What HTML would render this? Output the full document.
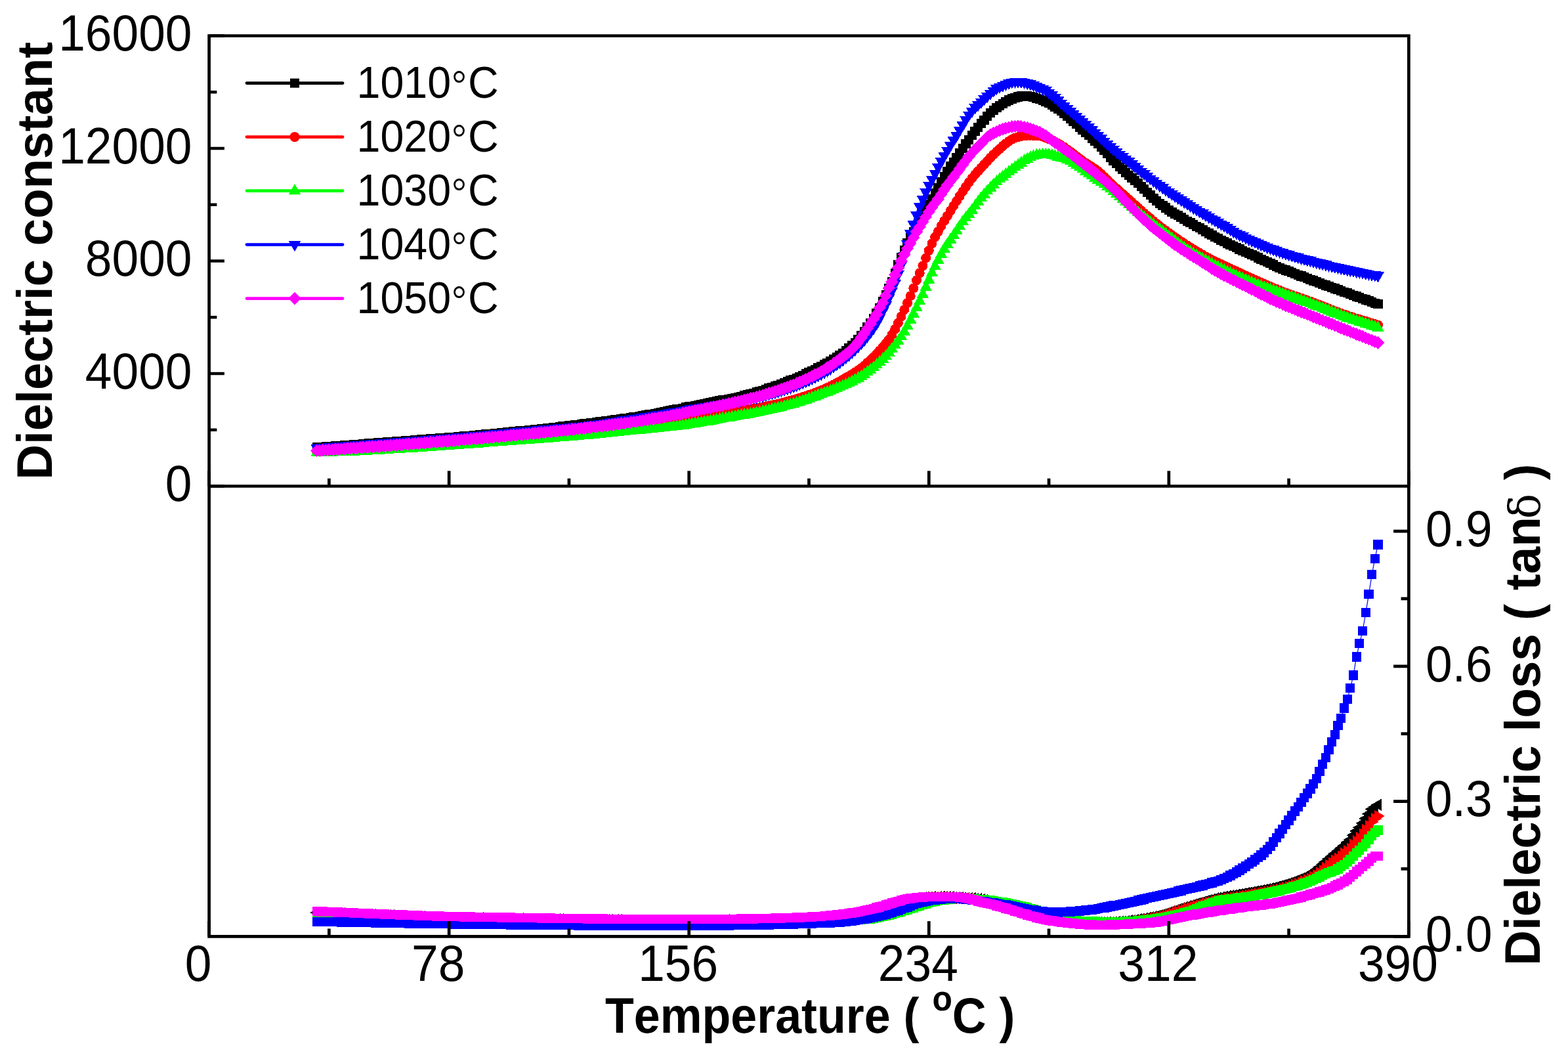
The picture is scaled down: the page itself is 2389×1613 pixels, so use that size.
<!DOCTYPE html>
<html lang="en">
<head>
<meta charset="utf-8">
<title>Dielectric constant and dielectric loss vs temperature</title>
<style>
html,body{margin:0;padding:0;background:#fff;}
body{width:2389px;height:1613px;overflow:hidden;}
svg{display:block;}
text{font-family:"Liberation Sans",sans-serif;fill:#000;font-kerning:none;}
</style>
</head>
<body>
<svg width="2389" height="1613" viewBox="0 0 2389 1613" role="img" aria-label="Dielectric constant and dielectric loss versus temperature">
<rect width="2389" height="1613" fill="#fff"/>
<g id="curves">
<defs>
<marker id="m-sq-black" viewBox="-12 -12 24 24" markerWidth="24" markerHeight="24" refX="0" refY="0" markerUnits="userSpaceOnUse" orient="0" overflow="visible"><path d="M-7.1 -7.1H7.1V7.1H-7.1Z" fill="#000000" shape-rendering="crispEdges"/></marker>
<marker id="m-sq-red" viewBox="-12 -12 24 24" markerWidth="24" markerHeight="24" refX="0" refY="0" markerUnits="userSpaceOnUse" orient="0" overflow="visible"><path d="M-7.1 -7.1H7.1V7.1H-7.1Z" fill="#ff0000" shape-rendering="crispEdges"/></marker>
<marker id="m-sq-green" viewBox="-12 -12 24 24" markerWidth="24" markerHeight="24" refX="0" refY="0" markerUnits="userSpaceOnUse" orient="0" overflow="visible"><path d="M-7.1 -7.1H7.1V7.1H-7.1Z" fill="#00ff00" shape-rendering="crispEdges"/></marker>
<marker id="m-sq-blue" viewBox="-12 -12 24 24" markerWidth="24" markerHeight="24" refX="0" refY="0" markerUnits="userSpaceOnUse" orient="0" overflow="visible"><path d="M-7.1 -7.1H7.1V7.1H-7.1Z" fill="#0000ff" shape-rendering="crispEdges"/></marker>
<marker id="m-sq-magenta" viewBox="-12 -12 24 24" markerWidth="24" markerHeight="24" refX="0" refY="0" markerUnits="userSpaceOnUse" orient="0" overflow="visible"><path d="M-7.1 -7.1H7.1V7.1H-7.1Z" fill="#ff00ff" shape-rendering="crispEdges"/></marker>
<marker id="m-ci-black" viewBox="-12 -12 24 24" markerWidth="24" markerHeight="24" refX="0" refY="0" markerUnits="userSpaceOnUse" orient="0" overflow="visible"><path d="M7.5 0A7.5 7.5 0 1 1 -7.5 0A7.5 7.5 0 1 1 7.5 0Z" fill="#000000" shape-rendering="crispEdges"/></marker>
<marker id="m-ci-red" viewBox="-12 -12 24 24" markerWidth="24" markerHeight="24" refX="0" refY="0" markerUnits="userSpaceOnUse" orient="0" overflow="visible"><path d="M7.5 0A7.5 7.5 0 1 1 -7.5 0A7.5 7.5 0 1 1 7.5 0Z" fill="#ff0000" shape-rendering="crispEdges"/></marker>
<marker id="m-ci-green" viewBox="-12 -12 24 24" markerWidth="24" markerHeight="24" refX="0" refY="0" markerUnits="userSpaceOnUse" orient="0" overflow="visible"><path d="M7.5 0A7.5 7.5 0 1 1 -7.5 0A7.5 7.5 0 1 1 7.5 0Z" fill="#00ff00" shape-rendering="crispEdges"/></marker>
<marker id="m-ci-blue" viewBox="-12 -12 24 24" markerWidth="24" markerHeight="24" refX="0" refY="0" markerUnits="userSpaceOnUse" orient="0" overflow="visible"><path d="M7.5 0A7.5 7.5 0 1 1 -7.5 0A7.5 7.5 0 1 1 7.5 0Z" fill="#0000ff" shape-rendering="crispEdges"/></marker>
<marker id="m-ci-magenta" viewBox="-12 -12 24 24" markerWidth="24" markerHeight="24" refX="0" refY="0" markerUnits="userSpaceOnUse" orient="0" overflow="visible"><path d="M7.5 0A7.5 7.5 0 1 1 -7.5 0A7.5 7.5 0 1 1 7.5 0Z" fill="#ff00ff" shape-rendering="crispEdges"/></marker>
<marker id="m-up-black" viewBox="-12 -12 24 24" markerWidth="24" markerHeight="24" refX="0" refY="0" markerUnits="userSpaceOnUse" orient="0" overflow="visible"><path d="M0 -10.6L9.3 5.6H-9.3Z" fill="#000000" shape-rendering="crispEdges"/></marker>
<marker id="m-up-red" viewBox="-12 -12 24 24" markerWidth="24" markerHeight="24" refX="0" refY="0" markerUnits="userSpaceOnUse" orient="0" overflow="visible"><path d="M0 -10.6L9.3 5.6H-9.3Z" fill="#ff0000" shape-rendering="crispEdges"/></marker>
<marker id="m-up-green" viewBox="-12 -12 24 24" markerWidth="24" markerHeight="24" refX="0" refY="0" markerUnits="userSpaceOnUse" orient="0" overflow="visible"><path d="M0 -10.6L9.3 5.6H-9.3Z" fill="#00ff00" shape-rendering="crispEdges"/></marker>
<marker id="m-up-blue" viewBox="-12 -12 24 24" markerWidth="24" markerHeight="24" refX="0" refY="0" markerUnits="userSpaceOnUse" orient="0" overflow="visible"><path d="M0 -10.6L9.3 5.6H-9.3Z" fill="#0000ff" shape-rendering="crispEdges"/></marker>
<marker id="m-up-magenta" viewBox="-12 -12 24 24" markerWidth="24" markerHeight="24" refX="0" refY="0" markerUnits="userSpaceOnUse" orient="0" overflow="visible"><path d="M0 -10.6L9.3 5.6H-9.3Z" fill="#ff00ff" shape-rendering="crispEdges"/></marker>
<marker id="m-dn-black" viewBox="-12 -12 24 24" markerWidth="24" markerHeight="24" refX="0" refY="0" markerUnits="userSpaceOnUse" orient="0" overflow="visible"><path d="M0 10.6L9.3 -5.6H-9.3Z" fill="#000000" shape-rendering="crispEdges"/></marker>
<marker id="m-dn-red" viewBox="-12 -12 24 24" markerWidth="24" markerHeight="24" refX="0" refY="0" markerUnits="userSpaceOnUse" orient="0" overflow="visible"><path d="M0 10.6L9.3 -5.6H-9.3Z" fill="#ff0000" shape-rendering="crispEdges"/></marker>
<marker id="m-dn-green" viewBox="-12 -12 24 24" markerWidth="24" markerHeight="24" refX="0" refY="0" markerUnits="userSpaceOnUse" orient="0" overflow="visible"><path d="M0 10.6L9.3 -5.6H-9.3Z" fill="#00ff00" shape-rendering="crispEdges"/></marker>
<marker id="m-dn-blue" viewBox="-12 -12 24 24" markerWidth="24" markerHeight="24" refX="0" refY="0" markerUnits="userSpaceOnUse" orient="0" overflow="visible"><path d="M0 10.6L9.3 -5.6H-9.3Z" fill="#0000ff" shape-rendering="crispEdges"/></marker>
<marker id="m-dn-magenta" viewBox="-12 -12 24 24" markerWidth="24" markerHeight="24" refX="0" refY="0" markerUnits="userSpaceOnUse" orient="0" overflow="visible"><path d="M0 10.6L9.3 -5.6H-9.3Z" fill="#ff00ff" shape-rendering="crispEdges"/></marker>
<marker id="m-di-black" viewBox="-12 -12 24 24" markerWidth="24" markerHeight="24" refX="0" refY="0" markerUnits="userSpaceOnUse" orient="0" overflow="visible"><path d="M0 -9.8L9.7 0L0 9.8L-9.7 0Z" fill="#000000" shape-rendering="crispEdges"/></marker>
<marker id="m-di-red" viewBox="-12 -12 24 24" markerWidth="24" markerHeight="24" refX="0" refY="0" markerUnits="userSpaceOnUse" orient="0" overflow="visible"><path d="M0 -9.8L9.7 0L0 9.8L-9.7 0Z" fill="#ff0000" shape-rendering="crispEdges"/></marker>
<marker id="m-di-green" viewBox="-12 -12 24 24" markerWidth="24" markerHeight="24" refX="0" refY="0" markerUnits="userSpaceOnUse" orient="0" overflow="visible"><path d="M0 -9.8L9.7 0L0 9.8L-9.7 0Z" fill="#00ff00" shape-rendering="crispEdges"/></marker>
<marker id="m-di-blue" viewBox="-12 -12 24 24" markerWidth="24" markerHeight="24" refX="0" refY="0" markerUnits="userSpaceOnUse" orient="0" overflow="visible"><path d="M0 -9.8L9.7 0L0 9.8L-9.7 0Z" fill="#0000ff" shape-rendering="crispEdges"/></marker>
<marker id="m-di-magenta" viewBox="-12 -12 24 24" markerWidth="24" markerHeight="24" refX="0" refY="0" markerUnits="userSpaceOnUse" orient="0" overflow="visible"><path d="M0 -9.8L9.7 0L0 9.8L-9.7 0Z" fill="#ff00ff" shape-rendering="crispEdges"/></marker>
<marker id="m-lt-black" viewBox="-12 -12 24 24" markerWidth="24" markerHeight="24" refX="0" refY="0" markerUnits="userSpaceOnUse" orient="0" overflow="visible"><path d="M-10.6 0L5.6 -9.3V9.3Z" fill="#000000" shape-rendering="crispEdges"/></marker>
<marker id="m-lt-red" viewBox="-12 -12 24 24" markerWidth="24" markerHeight="24" refX="0" refY="0" markerUnits="userSpaceOnUse" orient="0" overflow="visible"><path d="M-10.6 0L5.6 -9.3V9.3Z" fill="#ff0000" shape-rendering="crispEdges"/></marker>
<marker id="m-lt-green" viewBox="-12 -12 24 24" markerWidth="24" markerHeight="24" refX="0" refY="0" markerUnits="userSpaceOnUse" orient="0" overflow="visible"><path d="M-10.6 0L5.6 -9.3V9.3Z" fill="#00ff00" shape-rendering="crispEdges"/></marker>
<marker id="m-lt-blue" viewBox="-12 -12 24 24" markerWidth="24" markerHeight="24" refX="0" refY="0" markerUnits="userSpaceOnUse" orient="0" overflow="visible"><path d="M-10.6 0L5.6 -9.3V9.3Z" fill="#0000ff" shape-rendering="crispEdges"/></marker>
<marker id="m-lt-magenta" viewBox="-12 -12 24 24" markerWidth="24" markerHeight="24" refX="0" refY="0" markerUnits="userSpaceOnUse" orient="0" overflow="visible"><path d="M-10.6 0L5.6 -9.3V9.3Z" fill="#ff00ff" shape-rendering="crispEdges"/></marker>
<marker id="m-rt-black" viewBox="-12 -12 24 24" markerWidth="24" markerHeight="24" refX="0" refY="0" markerUnits="userSpaceOnUse" orient="0" overflow="visible"><path d="M10.6 0L-5.6 -9.3V9.3Z" fill="#000000" shape-rendering="crispEdges"/></marker>
<marker id="m-rt-red" viewBox="-12 -12 24 24" markerWidth="24" markerHeight="24" refX="0" refY="0" markerUnits="userSpaceOnUse" orient="0" overflow="visible"><path d="M10.6 0L-5.6 -9.3V9.3Z" fill="#ff0000" shape-rendering="crispEdges"/></marker>
<marker id="m-rt-green" viewBox="-12 -12 24 24" markerWidth="24" markerHeight="24" refX="0" refY="0" markerUnits="userSpaceOnUse" orient="0" overflow="visible"><path d="M10.6 0L-5.6 -9.3V9.3Z" fill="#00ff00" shape-rendering="crispEdges"/></marker>
<marker id="m-rt-blue" viewBox="-12 -12 24 24" markerWidth="24" markerHeight="24" refX="0" refY="0" markerUnits="userSpaceOnUse" orient="0" overflow="visible"><path d="M10.6 0L-5.6 -9.3V9.3Z" fill="#0000ff" shape-rendering="crispEdges"/></marker>
<marker id="m-rt-magenta" viewBox="-12 -12 24 24" markerWidth="24" markerHeight="24" refX="0" refY="0" markerUnits="userSpaceOnUse" orient="0" overflow="visible"><path d="M10.6 0L-5.6 -9.3V9.3Z" fill="#ff00ff" shape-rendering="crispEdges"/></marker>
</defs>
<g id="series-top" fill="none" stroke-linejoin="round">
<polyline points="482.6,681.5 487.3,681.2 492.0,680.8 496.7,680.5 501.4,680.2 506.1,679.8 510.8,679.5 515.4,679.2 520.1,678.8 524.8,678.5 529.5,678.2 534.2,677.8 538.9,677.5 543.6,677.1 548.2,676.8 552.9,676.4 557.6,676.0 562.3,675.6 567.0,675.2 571.7,674.8 576.4,674.5 581.1,674.1 585.7,673.8 590.4,673.4 595.1,673.1 599.8,672.7 604.5,672.4 609.2,672.0 613.9,671.7 618.5,671.4 623.2,671.0 627.9,670.7 632.6,670.3 637.3,670.0 642.0,669.6 646.7,669.3 651.4,668.9 656.0,668.6 660.7,668.3 665.4,667.9 670.1,667.6 674.8,667.2 679.5,666.8 684.2,666.5 688.8,666.1 693.5,665.7 698.2,665.3 702.9,665.0 707.6,664.6 712.3,664.1 717.0,663.7 721.7,663.3 726.3,662.9 731.0,662.5 735.7,662.0 740.4,661.6 745.1,661.1 749.8,660.7 754.5,660.2 759.1,659.8 763.8,659.3 768.5,658.9 773.2,658.4 777.9,658.0 782.6,657.5 787.3,657.0 792.0,656.6 796.6,656.1 801.3,655.7 806.0,655.2 810.7,654.7 815.4,654.3 820.1,653.8 824.8,653.3 829.4,652.8 834.1,652.3 838.8,651.7 843.5,651.2 848.2,650.7 852.9,650.1 857.6,649.6 862.3,649.0 866.9,648.4 871.6,647.9 876.3,647.3 881.0,646.7 885.7,646.1 890.4,645.5 895.1,644.9 899.7,644.4 904.4,643.8 909.1,643.2 913.8,642.6 918.5,642.0 923.2,641.4 927.9,640.8 932.6,640.2 937.2,639.6 941.9,639.0 946.6,638.3 951.3,637.6 956.0,636.9 960.7,636.2 965.4,635.4 970.0,634.7 974.7,633.9 979.4,633.1 984.1,632.3 988.8,631.5 993.5,630.7 998.2,629.8 1002.9,629.0 1007.5,628.1 1012.2,627.2 1016.9,626.3 1021.6,625.4 1026.3,624.5 1031.0,623.6 1035.7,622.7 1040.3,621.7 1045.0,620.6 1049.7,619.6 1054.4,618.7 1059.1,617.7 1063.8,616.8 1068.5,615.9 1073.2,615.0 1077.8,614.1 1082.5,613.2 1087.2,612.3 1091.9,611.4 1096.6,610.5 1101.3,609.6 1106.0,608.7 1110.6,607.8 1115.3,606.8 1120.0,605.8 1124.7,604.8 1129.4,603.7 1134.1,602.6 1138.8,601.5 1143.5,600.2 1148.1,598.9 1152.8,597.6 1157.5,596.2 1162.2,594.7 1166.9,593.2 1171.6,591.6 1176.3,590.0 1180.9,588.4 1185.6,586.7 1190.3,585.0 1195.0,583.2 1199.7,581.4 1204.4,579.5 1209.1,577.7 1213.8,575.7 1218.4,573.7 1223.1,571.7 1227.8,569.6 1232.5,567.4 1237.2,565.2 1241.9,562.9 1246.6,560.6 1251.2,558.1 1255.9,555.6 1260.6,552.9 1265.3,550.1 1270.0,547.2 1274.7,544.2 1279.4,541.0 1284.1,537.7 1288.7,534.3 1293.4,530.6 1298.1,526.5 1302.8,521.9 1307.5,516.7 1312.2,511.1 1316.9,505.0 1321.5,498.5 1326.2,491.8 1330.9,484.8 1335.6,477.2 1340.3,468.7 1345.0,459.4 1349.7,449.5 1354.4,439.4 1359.0,428.6 1363.7,416.1 1368.4,403.5 1373.1,392.2 1377.8,381.3 1382.5,370.4 1387.2,361.4 1391.8,353.2 1396.5,345.0 1401.2,336.5 1405.9,328.1 1410.6,319.6 1415.3,311.2 1420.0,302.7 1424.7,294.3 1429.3,285.7 1434.0,277.2 1438.7,268.9 1443.4,261.0 1448.1,253.5 1452.8,246.9 1457.5,240.5 1462.1,233.4 1466.8,226.2 1471.5,219.3 1476.2,212.6 1480.9,206.1 1485.6,200.0 1490.3,194.2 1495.0,188.3 1499.6,182.6 1504.3,177.2 1509.0,172.2 1513.7,167.6 1518.4,163.8 1523.1,160.6 1527.8,157.6 1532.4,154.9 1537.1,152.5 1541.8,150.4 1546.5,148.7 1551.2,147.5 1555.9,146.5 1560.6,146.0 1565.3,146.2 1569.9,147.1 1574.6,148.3 1579.3,149.7 1584.0,151.2 1588.7,152.8 1593.4,154.9 1598.1,157.3 1602.7,159.9 1607.4,162.7 1612.1,165.9 1616.8,169.3 1621.5,172.9 1626.2,176.5 1630.9,180.4 1635.6,184.6 1640.2,189.0 1644.9,193.5 1649.6,198.0 1654.3,202.2 1659.0,206.3 1663.7,210.4 1668.4,214.7 1673.0,219.1 1677.7,224.0 1682.4,229.1 1687.1,234.3 1691.8,239.5 1696.5,244.5 1701.2,249.2 1705.9,253.8 1710.5,258.3 1715.2,262.7 1719.9,267.0 1724.6,271.1 1729.3,275.1 1734.0,279.3 1738.7,283.6 1743.3,288.1 1748.0,292.7 1752.7,297.2 1757.4,301.6 1762.1,305.7 1766.8,309.6 1771.5,313.2 1776.2,316.5 1780.8,319.7 1785.5,322.7 1790.2,325.6 1794.9,328.4 1799.6,331.1 1804.3,333.8 1809.0,336.6 1813.6,339.3 1818.3,342.1 1823.0,344.8 1827.7,347.4 1832.4,350.1 1837.1,352.8 1841.8,355.5 1846.5,358.2 1851.1,360.8 1855.8,363.3 1860.5,365.8 1865.2,368.2 1869.9,370.5 1874.6,372.8 1879.3,375.1 1883.9,377.3 1888.6,379.5 1893.3,381.7 1898.0,383.8 1902.7,386.0 1907.4,388.1 1912.1,390.2 1916.8,392.4 1921.4,394.6 1926.1,396.8 1930.8,399.1 1935.5,401.3 1940.2,403.5 1944.9,405.6 1949.6,407.6 1954.2,409.6 1958.9,411.5 1963.6,413.3 1968.3,415.2 1973.0,416.9 1977.7,418.7 1982.4,420.5 1987.1,422.2 1991.7,424.0 1996.4,425.7 2001.1,427.4 2005.8,429.2 2010.5,430.9 2015.2,432.6 2019.9,434.4 2024.5,436.1 2029.2,437.8 2033.9,439.5 2038.6,441.2 2043.3,442.9 2048.0,444.6 2052.7,446.3 2057.4,448.0 2062.0,449.7 2066.7,451.4 2071.4,453.1 2076.1,454.8 2080.8,456.5 2085.5,458.2 2090.2,459.9 2094.8,461.6 2099.5,463.3" stroke="#000000" stroke-width="4.8" marker-start="url(#m-sq-black)" marker-mid="url(#m-sq-black)" marker-end="url(#m-sq-black)"/>
<polyline points="482.6,688.0 487.3,687.7 492.0,687.4 496.7,687.1 501.4,686.8 506.1,686.5 510.8,686.2 515.4,685.9 520.1,685.6 524.8,685.3 529.5,685.0 534.2,684.7 538.9,684.4 543.6,684.1 548.2,683.8 552.9,683.5 557.6,683.2 562.3,682.9 567.0,682.5 571.7,682.2 576.4,681.9 581.1,681.6 585.7,681.3 590.4,680.9 595.1,680.6 599.8,680.3 604.5,680.0 609.2,679.6 613.9,679.3 618.5,679.0 623.2,678.6 627.9,678.3 632.6,678.0 637.3,677.6 642.0,677.3 646.7,677.0 651.4,676.6 656.0,676.3 660.7,675.9 665.4,675.6 670.1,675.2 674.8,674.9 679.5,674.5 684.2,674.2 688.8,673.8 693.5,673.5 698.2,673.1 702.9,672.8 707.6,672.4 712.3,672.1 717.0,671.7 721.7,671.4 726.3,671.0 731.0,670.7 735.7,670.3 740.4,669.9 745.1,669.6 749.8,669.2 754.5,668.9 759.1,668.5 763.8,668.1 768.5,667.8 773.2,667.4 777.9,667.0 782.6,666.6 787.3,666.2 792.0,665.9 796.6,665.5 801.3,665.1 806.0,664.7 810.7,664.3 815.4,663.9 820.1,663.4 824.8,663.0 829.4,662.6 834.1,662.2 838.8,661.7 843.5,661.3 848.2,660.8 852.9,660.4 857.6,659.9 862.3,659.4 866.9,659.0 871.6,658.5 876.3,658.0 881.0,657.5 885.7,657.1 890.4,656.6 895.1,656.1 899.7,655.6 904.4,655.1 909.1,654.6 913.8,654.0 918.5,653.5 923.2,653.0 927.9,652.5 932.6,652.0 937.2,651.4 941.9,650.9 946.6,650.4 951.3,649.9 956.0,649.3 960.7,648.8 965.4,648.3 970.0,647.7 974.7,647.2 979.4,646.6 984.1,646.1 988.8,645.5 993.5,644.9 998.2,644.4 1002.9,643.8 1007.5,643.2 1012.2,642.6 1016.9,642.0 1021.6,641.3 1026.3,640.7 1031.0,640.0 1035.7,639.3 1040.3,638.5 1045.0,637.7 1049.7,637.0 1054.4,636.3 1059.1,635.7 1063.8,635.0 1068.5,634.4 1073.2,633.9 1077.8,633.3 1082.5,632.7 1087.2,632.1 1091.9,631.5 1096.6,630.8 1101.3,630.1 1106.0,629.4 1110.6,628.6 1115.3,627.9 1120.0,627.1 1124.7,626.3 1129.4,625.5 1134.1,624.8 1138.8,624.0 1143.5,623.3 1148.1,622.5 1152.8,621.7 1157.5,620.9 1162.2,620.0 1166.9,619.0 1171.6,618.1 1176.3,617.1 1180.9,616.1 1185.6,615.0 1190.3,613.9 1195.0,612.8 1199.7,611.5 1204.4,610.2 1209.1,608.9 1213.8,607.6 1218.4,606.1 1223.1,604.7 1227.8,603.2 1232.5,601.6 1237.2,600.0 1241.9,598.2 1246.6,596.5 1251.2,594.6 1255.9,592.6 1260.6,590.5 1265.3,588.2 1270.0,585.8 1274.7,583.4 1279.4,580.8 1284.1,578.2 1288.7,575.5 1293.4,572.8 1298.1,570.0 1302.8,567.1 1307.5,564.0 1312.2,560.6 1316.9,556.8 1321.5,552.7 1326.2,548.3 1330.9,543.8 1335.6,539.1 1340.3,534.1 1345.0,528.9 1349.7,523.2 1354.4,517.1 1359.0,510.0 1363.7,501.5 1368.4,492.0 1373.1,482.0 1377.8,471.7 1382.5,461.5 1387.2,450.8 1391.8,439.0 1396.5,427.0 1401.2,415.9 1405.9,404.8 1410.6,393.0 1415.3,381.5 1420.0,370.7 1424.7,360.9 1429.3,352.8 1434.0,344.1 1438.7,336.5 1443.4,328.8 1448.1,321.1 1452.8,313.7 1457.5,306.2 1462.1,298.9 1466.8,291.7 1471.5,284.7 1476.2,277.8 1480.9,271.5 1485.6,265.9 1490.3,260.6 1495.0,255.5 1499.6,250.5 1504.3,245.4 1509.0,240.2 1513.7,235.3 1518.4,231.0 1523.1,226.8 1527.8,222.6 1532.4,218.7 1537.1,215.2 1541.8,212.2 1546.5,210.0 1551.2,208.5 1555.9,207.4 1560.6,206.6 1565.3,206.3 1569.9,206.3 1574.6,206.5 1579.3,206.7 1584.0,207.1 1588.7,208.2 1593.4,209.9 1598.1,211.8 1602.7,213.7 1607.4,216.0 1612.1,218.5 1616.8,221.3 1621.5,224.2 1626.2,227.6 1630.9,231.1 1635.6,234.6 1640.2,238.2 1644.9,241.7 1649.6,245.2 1654.3,248.4 1659.0,251.4 1663.7,254.4 1668.4,257.5 1673.0,261.0 1677.7,265.0 1682.4,269.4 1687.1,274.0 1691.8,278.7 1696.5,283.1 1701.2,287.3 1705.9,291.4 1710.5,295.4 1715.2,299.5 1719.9,303.7 1724.6,308.0 1729.3,312.3 1734.0,316.5 1738.7,320.6 1743.3,324.8 1748.0,328.8 1752.7,332.8 1757.4,336.8 1762.1,340.6 1766.8,344.3 1771.5,347.9 1776.2,351.4 1780.8,354.8 1785.5,358.2 1790.2,361.5 1794.9,364.7 1799.6,367.8 1804.3,370.9 1809.0,373.9 1813.6,376.9 1818.3,379.8 1823.0,382.7 1827.7,385.4 1832.4,388.2 1837.1,390.8 1841.8,393.4 1846.5,395.8 1851.1,398.1 1855.8,400.3 1860.5,402.5 1865.2,404.7 1869.9,406.9 1874.6,409.1 1879.3,411.3 1883.9,413.4 1888.6,415.6 1893.3,417.7 1898.0,419.9 1902.7,422.0 1907.4,424.1 1912.1,426.2 1916.8,428.3 1921.4,430.4 1926.1,432.5 1930.8,434.6 1935.5,436.6 1940.2,438.6 1944.9,440.5 1949.6,442.4 1954.2,444.2 1958.9,445.9 1963.6,447.7 1968.3,449.3 1973.0,451.0 1977.7,452.6 1982.4,454.2 1987.1,455.8 1991.7,457.5 1996.4,459.2 2001.1,460.9 2005.8,462.7 2010.5,464.5 2015.2,466.4 2019.9,468.2 2024.5,470.1 2029.2,472.0 2033.9,473.8 2038.6,475.6 2043.3,477.3 2048.0,479.0 2052.7,480.6 2057.4,482.2 2062.0,483.7 2066.7,485.1 2071.4,486.5 2076.1,488.0 2080.8,489.4 2085.5,490.8 2090.2,492.2 2094.8,493.6 2099.5,495.0" stroke="#ff0000" stroke-width="4.8" marker-start="url(#m-ci-red)" marker-mid="url(#m-ci-red)" marker-end="url(#m-ci-red)"/>
<polyline points="482.6,689.5 487.3,689.4 492.0,689.2 496.7,689.1 501.4,689.0 506.1,688.9 510.8,688.8 515.4,688.6 520.1,688.5 524.8,688.4 529.5,688.2 534.2,688.1 538.9,687.9 543.6,687.7 548.2,687.5 552.9,687.3 557.6,687.0 562.3,686.7 567.0,686.4 571.7,686.1 576.4,685.9 581.1,685.6 585.7,685.3 590.4,685.1 595.1,684.8 599.8,684.5 604.5,684.3 609.2,684.0 613.9,683.8 618.5,683.5 623.2,683.2 627.9,682.9 632.6,682.6 637.3,682.3 642.0,682.0 646.7,681.7 651.4,681.4 656.0,681.0 660.7,680.7 665.4,680.4 670.1,680.0 674.8,679.7 679.5,679.3 684.2,679.0 688.8,678.6 693.5,678.3 698.2,677.9 702.9,677.6 707.6,677.2 712.3,676.9 717.0,676.6 721.7,676.2 726.3,675.9 731.0,675.5 735.7,675.2 740.4,674.8 745.1,674.5 749.8,674.2 754.5,673.8 759.1,673.5 763.8,673.1 768.5,672.8 773.2,672.4 777.9,672.1 782.6,671.7 787.3,671.4 792.0,671.0 796.6,670.7 801.3,670.4 806.0,670.0 810.7,669.7 815.4,669.3 820.1,669.0 824.8,668.6 829.4,668.3 834.1,667.9 838.8,667.5 843.5,667.2 848.2,666.8 852.9,666.4 857.6,666.0 862.3,665.7 866.9,665.3 871.6,664.9 876.3,664.5 881.0,664.1 885.7,663.7 890.4,663.3 895.1,662.9 899.7,662.4 904.4,662.0 909.1,661.5 913.8,661.1 918.5,660.6 923.2,660.1 927.9,659.6 932.6,659.1 937.2,658.6 941.9,658.1 946.6,657.6 951.3,657.2 956.0,656.7 960.7,656.2 965.4,655.8 970.0,655.3 974.7,654.9 979.4,654.5 984.1,654.0 988.8,653.6 993.5,653.1 998.2,652.7 1002.9,652.2 1007.5,651.7 1012.2,651.3 1016.9,650.8 1021.6,650.2 1026.3,649.7 1031.0,649.2 1035.7,648.6 1040.3,647.9 1045.0,647.3 1049.7,646.6 1054.4,645.8 1059.1,645.1 1063.8,644.3 1068.5,643.5 1073.2,642.7 1077.8,641.9 1082.5,641.1 1087.2,640.2 1091.9,639.4 1096.6,638.5 1101.3,637.6 1106.0,636.8 1110.6,636.0 1115.3,635.1 1120.0,634.3 1124.7,633.5 1129.4,632.7 1134.1,632.0 1138.8,631.2 1143.5,630.4 1148.1,629.6 1152.8,628.6 1157.5,627.7 1162.2,626.7 1166.9,625.7 1171.6,624.6 1176.3,623.6 1180.9,622.4 1185.6,621.3 1190.3,620.1 1195.0,618.8 1199.7,617.6 1204.4,616.3 1209.1,614.9 1213.8,613.5 1218.4,612.0 1223.1,610.4 1227.8,608.9 1232.5,607.2 1237.2,605.6 1241.9,603.9 1246.6,602.2 1251.2,600.5 1255.9,598.8 1260.6,597.1 1265.3,595.3 1270.0,593.5 1274.7,591.6 1279.4,589.7 1284.1,587.7 1288.7,585.7 1293.4,583.6 1298.1,581.3 1302.8,578.8 1307.5,576.1 1312.2,573.2 1316.9,570.1 1321.5,566.8 1326.2,563.4 1330.9,559.7 1335.6,555.8 1340.3,551.6 1345.0,547.2 1349.7,542.4 1354.4,537.1 1359.0,531.5 1363.7,525.8 1368.4,519.6 1373.1,512.7 1377.8,505.2 1382.5,496.7 1387.2,487.5 1391.8,478.1 1396.5,468.5 1401.2,458.7 1405.9,448.5 1410.6,437.4 1415.3,426.3 1420.0,415.8 1424.7,405.7 1429.3,396.1 1434.0,387.2 1438.7,379.3 1443.4,372.0 1448.1,365.0 1452.8,358.4 1457.5,351.8 1462.1,344.6 1466.8,337.7 1471.5,331.9 1476.2,326.3 1480.9,320.2 1485.6,313.9 1490.3,307.4 1495.0,301.4 1499.6,296.1 1504.3,290.9 1509.0,286.0 1513.7,281.3 1518.4,276.9 1523.1,272.8 1527.8,269.0 1532.4,265.4 1537.1,261.9 1541.8,258.3 1546.5,254.7 1551.2,251.2 1555.9,247.9 1560.6,244.8 1565.3,242.1 1569.9,239.7 1574.6,237.8 1579.3,236.4 1584.0,235.7 1588.7,235.4 1593.4,235.3 1598.1,235.6 1602.7,236.5 1607.4,237.7 1612.1,239.0 1616.8,240.3 1621.5,241.8 1626.2,243.6 1630.9,245.8 1635.6,248.5 1640.2,251.5 1644.9,254.6 1649.6,257.9 1654.3,261.2 1659.0,264.4 1663.7,267.7 1668.4,271.0 1673.0,274.2 1677.7,277.5 1682.4,280.9 1687.1,284.3 1691.8,287.9 1696.5,291.7 1701.2,295.5 1705.9,299.5 1710.5,303.6 1715.2,307.7 1719.9,311.7 1724.6,315.7 1729.3,319.6 1734.0,323.4 1738.7,327.2 1743.3,330.9 1748.0,334.6 1752.7,338.2 1757.4,341.8 1762.1,345.4 1766.8,349.0 1771.5,352.5 1776.2,356.1 1780.8,359.7 1785.5,363.3 1790.2,366.8 1794.9,370.3 1799.6,373.8 1804.3,377.1 1809.0,380.4 1813.6,383.4 1818.3,386.4 1823.0,389.2 1827.7,391.8 1832.4,394.4 1837.1,396.9 1841.8,399.4 1846.5,401.9 1851.1,404.4 1855.8,406.8 1860.5,409.2 1865.2,411.5 1869.9,413.7 1874.6,415.9 1879.3,418.1 1883.9,420.3 1888.6,422.3 1893.3,424.4 1898.0,426.4 1902.7,428.3 1907.4,430.2 1912.1,432.1 1916.8,433.9 1921.4,435.6 1926.1,437.4 1930.8,439.1 1935.5,440.8 1940.2,442.5 1944.9,444.2 1949.6,445.9 1954.2,447.6 1958.9,449.3 1963.6,451.0 1968.3,452.6 1973.0,454.2 1977.7,455.9 1982.4,457.5 1987.1,459.1 1991.7,460.8 1996.4,462.5 2001.1,464.2 2005.8,466.0 2010.5,467.8 2015.2,469.6 2019.9,471.4 2024.5,473.3 2029.2,475.2 2033.9,477.0 2038.6,478.8 2043.3,480.6 2048.0,482.3 2052.7,483.9 2057.4,485.6 2062.0,487.1 2066.7,488.7 2071.4,490.2 2076.1,491.7 2080.8,493.2 2085.5,494.7 2090.2,496.2 2094.8,497.7 2099.5,499.2" stroke="#00ff00" stroke-width="4.8" marker-start="url(#m-up-green)" marker-mid="url(#m-up-green)" marker-end="url(#m-up-green)"/>
<polyline points="482.6,682.5 487.3,682.1 492.0,681.8 496.7,681.4 501.4,681.1 506.1,680.7 510.8,680.4 515.4,680.0 520.1,679.7 524.8,679.3 529.5,678.9 534.2,678.6 538.9,678.2 543.6,677.9 548.2,677.5 552.9,677.2 557.6,676.8 562.3,676.5 567.0,676.1 571.7,675.8 576.4,675.4 581.1,675.0 585.7,674.7 590.4,674.3 595.1,674.0 599.8,673.6 604.5,673.3 609.2,673.0 613.9,672.6 618.5,672.3 623.2,671.9 627.9,671.6 632.6,671.2 637.3,670.9 642.0,670.5 646.7,670.2 651.4,669.8 656.0,669.5 660.7,669.1 665.4,668.8 670.1,668.4 674.8,668.0 679.5,667.7 684.2,667.3 688.8,666.9 693.5,666.5 698.2,666.1 702.9,665.8 707.6,665.4 712.3,665.0 717.0,664.5 721.7,664.1 726.3,663.7 731.0,663.3 735.7,662.9 740.4,662.4 745.1,662.0 749.8,661.6 754.5,661.1 759.1,660.7 763.8,660.3 768.5,659.8 773.2,659.4 777.9,658.9 782.6,658.5 787.3,658.0 792.0,657.6 796.6,657.1 801.3,656.7 806.0,656.3 810.7,655.8 815.4,655.4 820.1,655.0 824.8,654.5 829.4,654.1 834.1,653.7 838.8,653.3 843.5,652.9 848.2,652.5 852.9,652.1 857.6,651.7 862.3,651.3 866.9,650.9 871.6,650.5 876.3,650.1 881.0,649.6 885.7,649.2 890.4,648.7 895.1,648.2 899.7,647.7 904.4,647.1 909.1,646.5 913.8,645.9 918.5,645.2 923.2,644.5 927.9,643.8 932.6,643.1 937.2,642.3 941.9,641.6 946.6,640.9 951.3,640.1 956.0,639.4 960.7,638.7 965.4,638.0 970.0,637.3 974.7,636.5 979.4,635.8 984.1,635.1 988.8,634.3 993.5,633.6 998.2,632.8 1002.9,632.1 1007.5,631.3 1012.2,630.5 1016.9,629.7 1021.6,628.9 1026.3,628.1 1031.0,627.3 1035.7,626.4 1040.3,625.4 1045.0,624.4 1049.7,623.6 1054.4,622.8 1059.1,622.0 1063.8,621.3 1068.5,620.6 1073.2,619.9 1077.8,619.2 1082.5,618.5 1087.2,617.8 1091.9,617.1 1096.6,616.4 1101.3,615.6 1106.0,614.8 1110.6,614.0 1115.3,613.1 1120.0,612.3 1124.7,611.4 1129.4,610.5 1134.1,609.6 1138.8,608.6 1143.5,607.6 1148.1,606.5 1152.8,605.4 1157.5,604.3 1162.2,603.1 1166.9,601.8 1171.6,600.5 1176.3,599.2 1180.9,597.9 1185.6,596.4 1190.3,595.0 1195.0,593.4 1199.7,591.9 1204.4,590.2 1209.1,588.5 1213.8,586.7 1218.4,584.8 1223.1,582.9 1227.8,580.9 1232.5,578.8 1237.2,576.6 1241.9,574.4 1246.6,572.0 1251.2,569.6 1255.9,567.0 1260.6,564.3 1265.3,561.4 1270.0,558.3 1274.7,555.2 1279.4,551.9 1284.1,548.5 1288.7,544.9 1293.4,541.0 1298.1,536.9 1302.8,532.4 1307.5,527.8 1312.2,523.0 1316.9,517.8 1321.5,512.3 1326.2,506.4 1330.9,500.0 1335.6,493.0 1340.3,484.2 1345.0,474.4 1349.7,464.9 1354.4,453.5 1359.0,443.1 1363.7,431.7 1368.4,417.9 1373.1,404.0 1377.8,389.2 1382.5,371.9 1387.2,355.8 1391.8,342.0 1396.5,328.0 1401.2,314.8 1405.9,303.7 1410.6,292.9 1415.3,282.3 1420.0,273.4 1424.7,264.1 1429.3,254.7 1434.0,245.8 1438.7,237.6 1443.4,229.5 1448.1,221.6 1452.8,213.8 1457.5,206.4 1462.1,198.6 1466.8,190.7 1471.5,182.7 1476.2,175.2 1480.9,169.1 1485.6,164.0 1490.3,159.6 1495.0,155.4 1499.6,151.0 1504.3,146.5 1509.0,142.2 1513.7,138.2 1518.4,134.8 1523.1,132.3 1527.8,130.2 1532.4,128.2 1537.1,126.4 1541.8,125.1 1546.5,124.3 1551.2,124.1 1555.9,124.5 1560.6,125.3 1565.3,126.5 1569.9,127.9 1574.6,129.6 1579.3,131.5 1584.0,133.4 1588.7,135.4 1593.4,137.9 1598.1,141.1 1602.7,144.8 1607.4,148.8 1612.1,153.0 1616.8,157.2 1621.5,161.4 1626.2,165.4 1630.9,169.3 1635.6,173.2 1640.2,177.2 1644.9,181.2 1649.6,185.3 1654.3,189.4 1659.0,193.6 1663.7,197.9 1668.4,202.2 1673.0,206.5 1677.7,210.9 1682.4,215.3 1687.1,219.6 1691.8,223.8 1696.5,227.7 1701.2,231.5 1705.9,235.1 1710.5,238.7 1715.2,242.3 1719.9,246.0 1724.6,249.8 1729.3,253.8 1734.0,257.7 1738.7,261.4 1743.3,265.0 1748.0,268.6 1752.7,272.2 1757.4,275.7 1762.1,279.1 1766.8,282.5 1771.5,285.9 1776.2,289.2 1780.8,292.4 1785.5,295.6 1790.2,298.7 1794.9,301.7 1799.6,304.7 1804.3,307.6 1809.0,310.5 1813.6,313.4 1818.3,316.3 1823.0,319.2 1827.7,322.1 1832.4,325.0 1837.1,327.8 1841.8,330.5 1846.5,333.2 1851.1,335.9 1855.8,338.6 1860.5,341.3 1865.2,344.0 1869.9,346.8 1874.6,349.6 1879.3,352.4 1883.9,355.1 1888.6,357.6 1893.3,360.0 1898.0,362.2 1902.7,364.4 1907.4,366.6 1912.1,368.6 1916.8,370.7 1921.4,372.6 1926.1,374.5 1930.8,376.4 1935.5,378.2 1940.2,379.9 1944.9,381.6 1949.6,383.2 1954.2,384.8 1958.9,386.3 1963.6,387.8 1968.3,389.2 1973.0,390.6 1977.7,391.9 1982.4,393.2 1987.1,394.5 1991.7,395.8 1996.4,397.0 2001.1,398.3 2005.8,399.5 2010.5,400.7 2015.2,401.9 2019.9,403.0 2024.5,404.2 2029.2,405.3 2033.9,406.4 2038.6,407.5 2043.3,408.5 2048.0,409.6 2052.7,410.6 2057.4,411.6 2062.0,412.5 2066.7,413.5 2071.4,414.4 2076.1,415.3 2080.8,416.2 2085.5,417.1 2090.2,418.1 2094.8,419.0 2099.5,419.9" stroke="#0000ff" stroke-width="4.8" marker-start="url(#m-dn-blue)" marker-mid="url(#m-dn-blue)" marker-end="url(#m-dn-blue)"/>
<polyline points="482.6,686.5 487.3,686.2 492.0,685.8 496.7,685.5 501.4,685.2 506.1,684.9 510.8,684.5 515.4,684.2 520.1,683.9 524.8,683.6 529.5,683.2 534.2,682.9 538.9,682.6 543.6,682.3 548.2,681.9 552.9,681.6 557.6,681.3 562.3,680.9 567.0,680.6 571.7,680.2 576.4,679.9 581.1,679.6 585.7,679.2 590.4,678.9 595.1,678.5 599.8,678.2 604.5,677.8 609.2,677.4 613.9,677.1 618.5,676.7 623.2,676.4 627.9,676.0 632.6,675.7 637.3,675.3 642.0,674.9 646.7,674.6 651.4,674.2 656.0,673.8 660.7,673.5 665.4,673.1 670.1,672.7 674.8,672.3 679.5,671.9 684.2,671.6 688.8,671.2 693.5,670.8 698.2,670.4 702.9,670.0 707.6,669.6 712.3,669.2 717.0,668.8 721.7,668.4 726.3,668.0 731.0,667.6 735.7,667.2 740.4,666.8 745.1,666.4 749.8,666.0 754.5,665.6 759.1,665.2 763.8,664.8 768.5,664.4 773.2,663.9 777.9,663.5 782.6,663.1 787.3,662.6 792.0,662.2 796.6,661.8 801.3,661.3 806.0,660.9 810.7,660.4 815.4,660.0 820.1,659.5 824.8,659.0 829.4,658.6 834.1,658.1 838.8,657.6 843.5,657.1 848.2,656.6 852.9,656.2 857.6,655.7 862.3,655.2 866.9,654.7 871.6,654.2 876.3,653.7 881.0,653.2 885.7,652.6 890.4,652.1 895.1,651.6 899.7,651.0 904.4,650.5 909.1,649.9 913.8,649.4 918.5,648.8 923.2,648.2 927.9,647.6 932.6,647.1 937.2,646.4 941.9,645.8 946.6,645.2 951.3,644.6 956.0,643.9 960.7,643.3 965.4,642.6 970.0,641.9 974.7,641.2 979.4,640.5 984.1,639.7 988.8,639.0 993.5,638.2 998.2,637.4 1002.9,636.6 1007.5,635.8 1012.2,635.0 1016.9,634.1 1021.6,633.3 1026.3,632.4 1031.0,631.5 1035.7,630.6 1040.3,629.5 1045.0,628.5 1049.7,627.4 1054.4,626.5 1059.1,625.5 1063.8,624.6 1068.5,623.7 1073.2,622.7 1077.8,621.8 1082.5,620.9 1087.2,619.9 1091.9,619.0 1096.6,618.0 1101.3,617.0 1106.0,616.0 1110.6,614.9 1115.3,613.8 1120.0,612.8 1124.7,611.7 1129.4,610.6 1134.1,609.4 1138.8,608.3 1143.5,607.2 1148.1,605.9 1152.8,604.7 1157.5,603.3 1162.2,602.0 1166.9,600.6 1171.6,599.2 1176.3,597.7 1180.9,596.2 1185.6,594.6 1190.3,593.0 1195.0,591.3 1199.7,589.6 1204.4,587.8 1209.1,586.0 1213.8,584.0 1218.4,582.0 1223.1,579.9 1227.8,577.8 1232.5,575.6 1237.2,573.2 1241.9,570.8 1246.6,568.4 1251.2,565.8 1255.9,563.1 1260.6,560.1 1265.3,557.1 1270.0,553.8 1274.7,550.5 1279.4,547.0 1284.1,543.5 1288.7,539.8 1293.4,535.9 1298.1,531.5 1302.8,526.5 1307.5,520.8 1312.2,514.4 1316.9,507.6 1321.5,500.6 1326.2,493.4 1330.9,486.3 1335.6,479.0 1340.3,468.8 1345.0,460.8 1349.7,450.5 1354.4,438.8 1359.0,429.5 1363.7,418.7 1368.4,408.0 1373.1,397.4 1377.8,387.5 1382.5,378.5 1387.2,370.1 1391.8,362.0 1396.5,353.0 1401.2,345.6 1405.9,338.0 1410.6,330.4 1415.3,322.9 1420.0,315.7 1424.7,309.4 1429.3,303.2 1434.0,295.9 1438.7,288.6 1443.4,282.2 1448.1,276.1 1452.8,269.8 1457.5,263.5 1462.1,257.2 1466.8,250.9 1471.5,244.5 1476.2,238.5 1480.9,233.1 1485.6,228.1 1490.3,223.4 1495.0,218.5 1499.6,213.4 1504.3,208.8 1509.0,205.3 1513.7,203.0 1518.4,200.8 1523.1,198.7 1527.8,196.9 1532.4,195.2 1537.1,193.9 1541.8,193.0 1546.5,192.4 1551.2,192.3 1555.9,192.7 1560.6,193.6 1565.3,194.9 1569.9,196.4 1574.6,198.1 1579.3,199.8 1584.0,201.7 1588.7,204.2 1593.4,207.1 1598.1,210.2 1602.7,213.6 1607.4,217.0 1612.1,220.3 1616.8,223.5 1621.5,226.9 1626.2,230.4 1630.9,234.0 1635.6,237.6 1640.2,241.2 1644.9,244.8 1649.6,248.4 1654.3,252.0 1659.0,255.6 1663.7,259.3 1668.4,263.0 1673.0,266.8 1677.7,270.7 1682.4,274.5 1687.1,278.5 1691.8,282.6 1696.5,287.0 1701.2,291.6 1705.9,296.5 1710.5,301.5 1715.2,306.6 1719.9,311.6 1724.6,316.6 1729.3,321.5 1734.0,326.1 1738.7,330.5 1743.3,334.8 1748.0,339.0 1752.7,343.2 1757.4,347.2 1762.1,351.1 1766.8,354.9 1771.5,358.6 1776.2,362.2 1780.8,365.7 1785.5,369.2 1790.2,372.5 1794.9,375.8 1799.6,379.0 1804.3,382.2 1809.0,385.2 1813.6,388.2 1818.3,391.1 1823.0,393.8 1827.7,396.6 1832.4,399.7 1837.1,402.8 1841.8,405.9 1846.5,408.8 1851.1,411.7 1855.8,414.4 1860.5,417.0 1865.2,419.5 1869.9,422.0 1874.6,424.4 1879.3,426.8 1883.9,429.1 1888.6,431.5 1893.3,433.8 1898.0,436.1 1902.7,438.4 1907.4,440.8 1912.1,443.2 1916.8,445.5 1921.4,447.9 1926.1,450.2 1930.8,452.5 1935.5,454.8 1940.2,457.0 1944.9,459.2 1949.6,461.3 1954.2,463.4 1958.9,465.4 1963.6,467.3 1968.3,469.3 1973.0,471.2 1977.7,473.0 1982.4,474.9 1987.1,476.8 1991.7,478.7 1996.4,480.5 2001.1,482.5 2005.8,484.4 2010.5,486.3 2015.2,488.2 2019.9,490.1 2024.5,492.0 2029.2,493.9 2033.9,495.8 2038.6,497.7 2043.3,499.6 2048.0,501.5 2052.7,503.4 2057.4,505.2 2062.0,507.1 2066.7,509.0 2071.4,510.8 2076.1,512.7 2080.8,514.6 2085.5,516.4 2090.2,518.3 2094.8,520.1 2099.5,522.0" stroke="#ff00ff" stroke-width="4.8" marker-start="url(#m-di-magenta)" marker-mid="url(#m-di-magenta)" marker-end="url(#m-di-magenta)"/>
</g>
<g id="series-bot" fill="none" stroke-linejoin="round">
<polyline points="482.6,1390.0 487.3,1390.2 492.0,1390.4 496.7,1390.6 501.4,1390.8 506.1,1391.0 510.8,1391.2 515.4,1391.4 520.1,1391.6 524.8,1391.8 529.5,1392.0 534.2,1392.2 538.9,1392.3 543.6,1392.5 548.2,1392.7 552.9,1392.9 557.6,1393.1 562.3,1393.3 567.0,1393.5 571.7,1393.7 576.4,1393.9 581.1,1394.1 585.7,1394.3 590.4,1394.5 595.1,1394.7 599.8,1394.9 604.5,1395.1 609.2,1395.3 613.9,1395.5 618.5,1395.6 623.2,1395.8 627.9,1396.0 632.6,1396.2 637.3,1396.4 642.0,1396.5 646.7,1396.7 651.4,1396.8 656.0,1397.0 660.7,1397.1 665.4,1397.2 670.1,1397.3 674.8,1397.4 679.5,1397.6 684.2,1397.7 688.8,1397.8 693.5,1397.9 698.2,1398.0 702.9,1398.1 707.6,1398.2 712.3,1398.3 717.0,1398.4 721.7,1398.5 726.3,1398.6 731.0,1398.6 735.7,1398.7 740.4,1398.8 745.1,1398.9 749.8,1399.0 754.5,1399.1 759.1,1399.1 763.8,1399.2 768.5,1399.3 773.2,1399.4 777.9,1399.5 782.6,1399.5 787.3,1399.6 792.0,1399.7 796.6,1399.8 801.3,1399.8 806.0,1399.9 810.7,1400.0 815.4,1400.1 820.1,1400.1 824.8,1400.2 829.4,1400.3 834.1,1400.4 838.8,1400.4 843.5,1400.5 848.2,1400.6 852.9,1400.6 857.6,1400.7 862.3,1400.8 866.9,1400.8 871.6,1400.9 876.3,1400.9 881.0,1401.0 885.7,1401.1 890.4,1401.1 895.1,1401.2 899.7,1401.2 904.4,1401.3 909.1,1401.3 913.8,1401.4 918.5,1401.4 923.2,1401.5 927.9,1401.5 932.6,1401.5 937.2,1401.6 941.9,1401.6 946.6,1401.7 951.3,1401.7 956.0,1401.8 960.7,1401.8 965.4,1401.8 970.0,1401.9 974.7,1401.9 979.4,1401.9 984.1,1401.9 988.8,1402.0 993.5,1402.0 998.2,1402.0 1002.9,1402.0 1007.5,1402.0 1012.2,1402.0 1016.9,1402.0 1021.6,1402.0 1026.3,1402.0 1031.0,1401.9 1035.7,1401.9 1040.3,1401.9 1045.0,1401.9 1049.7,1401.9 1054.4,1401.9 1059.1,1401.9 1063.8,1401.9 1068.5,1401.8 1073.2,1401.8 1077.8,1401.8 1082.5,1401.8 1087.2,1401.8 1091.9,1401.8 1096.6,1401.7 1101.3,1401.7 1106.0,1401.7 1110.6,1401.7 1115.3,1401.7 1120.0,1401.6 1124.7,1401.6 1129.4,1401.6 1134.1,1401.6 1138.8,1401.5 1143.5,1401.5 1148.1,1401.5 1152.8,1401.4 1157.5,1401.4 1162.2,1401.4 1166.9,1401.3 1171.6,1401.3 1176.3,1401.2 1180.9,1401.2 1185.6,1401.1 1190.3,1401.0 1195.0,1400.9 1199.7,1400.8 1204.4,1400.7 1209.1,1400.4 1213.8,1400.1 1218.4,1399.8 1223.1,1399.4 1227.8,1399.0 1232.5,1398.6 1237.2,1398.3 1241.9,1397.9 1246.6,1397.6 1251.2,1397.2 1255.9,1396.8 1260.6,1396.4 1265.3,1396.0 1270.0,1395.6 1274.7,1395.2 1279.4,1394.7 1284.1,1394.2 1288.7,1393.6 1293.4,1393.0 1298.1,1392.3 1302.8,1391.5 1307.5,1390.7 1312.2,1389.8 1316.9,1388.9 1321.5,1387.9 1326.2,1386.9 1330.9,1385.7 1335.6,1384.5 1340.3,1383.2 1345.0,1381.7 1349.7,1380.1 1354.4,1378.6 1359.0,1377.0 1363.7,1375.6 1368.4,1374.3 1373.1,1372.9 1377.8,1371.6 1382.5,1370.5 1387.2,1369.6 1391.8,1369.0 1396.5,1368.4 1401.2,1367.9 1405.9,1367.5 1410.6,1367.1 1415.3,1366.9 1420.0,1366.6 1424.7,1366.4 1429.3,1366.2 1434.0,1366.1 1438.7,1366.0 1443.4,1366.1 1448.1,1366.4 1452.8,1366.8 1457.5,1367.1 1462.1,1367.4 1466.8,1367.7 1471.5,1367.9 1476.2,1368.3 1480.9,1368.6 1485.6,1369.0 1490.3,1369.5 1495.0,1370.3 1499.6,1371.3 1504.3,1372.6 1509.0,1374.0 1513.7,1375.6 1518.4,1377.1 1523.1,1378.7 1527.8,1380.2 1532.4,1381.7 1537.1,1383.1 1541.8,1384.6 1546.5,1386.0 1551.2,1387.5 1555.9,1389.0 1560.6,1390.5 1565.3,1391.9 1569.9,1393.2 1574.6,1394.3 1579.3,1395.2 1584.0,1396.0 1588.7,1396.8 1593.4,1397.5 1598.1,1398.3 1602.7,1399.1 1607.4,1399.8 1612.1,1400.6 1616.8,1401.4 1621.5,1402.2 1626.2,1403.1 1630.9,1403.8 1635.6,1404.5 1640.2,1405.0 1644.9,1405.4 1649.6,1405.5 1654.3,1405.5 1659.0,1405.5 1663.7,1405.4 1668.4,1405.4 1673.0,1405.3 1677.7,1405.2 1682.4,1405.1 1687.1,1405.0 1691.8,1404.8 1696.5,1404.7 1701.2,1404.4 1705.9,1404.1 1710.5,1403.7 1715.2,1403.2 1719.9,1402.6 1724.6,1402.0 1729.3,1401.3 1734.0,1400.5 1738.7,1399.7 1743.3,1398.9 1748.0,1398.1 1752.7,1397.2 1757.4,1396.3 1762.1,1395.2 1766.8,1394.0 1771.5,1392.6 1776.2,1391.2 1780.8,1389.6 1785.5,1388.1 1790.2,1386.5 1794.9,1384.9 1799.6,1383.4 1804.3,1382.0 1809.0,1380.7 1813.6,1379.3 1818.3,1377.8 1823.0,1376.4 1827.7,1375.0 1832.4,1373.7 1837.1,1372.3 1841.8,1371.0 1846.5,1369.8 1851.1,1368.7 1855.8,1367.7 1860.5,1366.8 1865.2,1365.9 1869.9,1365.1 1874.6,1364.3 1879.3,1363.6 1883.9,1362.8 1888.6,1362.0 1893.3,1361.2 1898.0,1360.4 1902.7,1359.5 1907.4,1358.7 1912.1,1357.8 1916.8,1357.0 1921.4,1356.1 1926.1,1355.2 1930.8,1354.2 1935.5,1353.2 1940.2,1352.1 1944.9,1350.9 1949.6,1349.6 1954.2,1348.3 1958.9,1346.9 1963.6,1345.3 1968.3,1343.7 1973.0,1342.0 1977.7,1340.1 1982.4,1338.1 1987.1,1336.0 1991.7,1333.7 1996.4,1331.2 2001.1,1328.2 2005.8,1324.7 2010.5,1320.8 2015.2,1316.7 2019.9,1312.5 2024.5,1308.3 2029.2,1304.2 2033.9,1300.2 2038.6,1296.1 2043.3,1292.1 2048.0,1288.0 2052.7,1283.2 2057.4,1278.9 2062.0,1272.2 2066.7,1265.8 2071.4,1260.4 2076.1,1253.9 2080.8,1246.8 2085.5,1239.7 2090.2,1232.5 2094.8,1229.0 2099.5,1225.8" stroke="#000000" stroke-width="1.2" marker-start="url(#m-lt-black)" marker-mid="url(#m-lt-black)" marker-end="url(#m-lt-black)"/>
<polyline points="482.6,1391.7 487.3,1391.9 492.0,1392.1 496.7,1392.3 501.4,1392.5 506.1,1392.7 510.8,1392.9 515.4,1393.1 520.1,1393.3 524.8,1393.5 529.5,1393.7 534.2,1393.9 538.9,1394.0 543.6,1394.2 548.2,1394.4 552.9,1394.6 557.6,1394.8 562.3,1395.0 567.0,1395.2 571.7,1395.4 576.4,1395.6 581.1,1395.8 585.7,1396.0 590.4,1396.2 595.1,1396.4 599.8,1396.6 604.5,1396.8 609.2,1397.0 613.9,1397.2 618.5,1397.3 623.2,1397.5 627.9,1397.7 632.6,1397.9 637.3,1398.1 642.0,1398.2 646.7,1398.4 651.4,1398.5 656.0,1398.7 660.7,1398.8 665.4,1398.9 670.1,1399.0 674.8,1399.1 679.5,1399.3 684.2,1399.4 688.8,1399.5 693.5,1399.6 698.2,1399.7 702.9,1399.8 707.6,1399.9 712.3,1400.0 717.0,1400.1 721.7,1400.2 726.3,1400.3 731.0,1400.3 735.7,1400.4 740.4,1400.5 745.1,1400.6 749.8,1400.7 754.5,1400.8 759.1,1400.8 763.8,1400.9 768.5,1401.0 773.2,1401.1 777.9,1401.2 782.6,1401.2 787.3,1401.3 792.0,1401.4 796.6,1401.5 801.3,1401.5 806.0,1401.6 810.7,1401.7 815.4,1401.8 820.1,1401.8 824.8,1401.9 829.4,1402.0 834.1,1402.1 838.8,1402.1 843.5,1402.2 848.2,1402.3 852.9,1402.3 857.6,1402.4 862.3,1402.5 866.9,1402.5 871.6,1402.6 876.3,1402.6 881.0,1402.7 885.7,1402.8 890.4,1402.8 895.1,1402.9 899.7,1402.9 904.4,1403.0 909.1,1403.0 913.8,1403.1 918.5,1403.1 923.2,1403.2 927.9,1403.2 932.6,1403.2 937.2,1403.3 941.9,1403.3 946.6,1403.4 951.3,1403.4 956.0,1403.5 960.7,1403.5 965.4,1403.5 970.0,1403.6 974.7,1403.6 979.4,1403.6 984.1,1403.6 988.8,1403.7 993.5,1403.7 998.2,1403.7 1002.9,1403.7 1007.5,1403.7 1012.2,1403.7 1016.9,1403.7 1021.6,1403.7 1026.3,1403.6 1031.0,1403.6 1035.7,1403.6 1040.3,1403.6 1045.0,1403.6 1049.7,1403.6 1054.4,1403.5 1059.1,1403.5 1063.8,1403.5 1068.5,1403.5 1073.2,1403.5 1077.8,1403.5 1082.5,1403.5 1087.2,1403.4 1091.9,1403.4 1096.6,1403.4 1101.3,1403.4 1106.0,1403.4 1110.6,1403.4 1115.3,1403.4 1120.0,1403.4 1124.7,1403.4 1129.4,1403.4 1134.1,1403.4 1138.8,1403.4 1143.5,1403.4 1148.1,1403.4 1152.8,1403.4 1157.5,1403.4 1162.2,1403.4 1166.9,1403.4 1171.6,1403.4 1176.3,1403.4 1180.9,1403.4 1185.6,1403.3 1190.3,1403.2 1195.0,1403.1 1199.7,1402.9 1204.4,1402.7 1209.1,1402.4 1213.8,1401.9 1218.4,1401.4 1223.1,1400.9 1227.8,1400.4 1232.5,1399.9 1237.2,1399.4 1241.9,1399.1 1246.6,1398.8 1251.2,1398.4 1255.9,1398.0 1260.6,1397.6 1265.3,1397.2 1270.0,1396.8 1274.7,1396.4 1279.4,1395.9 1284.1,1395.4 1288.7,1394.9 1293.4,1394.3 1298.1,1393.6 1302.8,1392.8 1307.5,1392.0 1312.2,1391.2 1316.9,1390.2 1321.5,1389.3 1326.2,1388.3 1330.9,1387.2 1335.6,1386.1 1340.3,1384.9 1345.0,1383.5 1349.7,1382.1 1354.4,1380.7 1359.0,1379.2 1363.7,1377.8 1368.4,1376.5 1373.1,1375.2 1377.8,1374.1 1382.5,1372.9 1387.2,1371.9 1391.8,1371.0 1396.5,1370.3 1401.2,1369.6 1405.9,1369.0 1410.6,1368.5 1415.3,1368.1 1420.0,1367.7 1424.7,1367.4 1429.3,1367.1 1434.0,1366.9 1438.7,1366.8 1443.4,1366.9 1448.1,1367.1 1452.8,1367.3 1457.5,1367.6 1462.1,1367.8 1466.8,1368.1 1471.5,1368.4 1476.2,1368.7 1480.9,1369.1 1485.6,1369.5 1490.3,1370.0 1495.0,1370.7 1499.6,1371.6 1504.3,1372.7 1509.0,1374.0 1513.7,1375.3 1518.4,1376.7 1523.1,1378.2 1527.8,1379.7 1532.4,1381.2 1537.1,1382.6 1541.8,1384.1 1546.5,1385.5 1551.2,1387.0 1555.9,1388.5 1560.6,1390.0 1565.3,1391.4 1569.9,1392.7 1574.6,1393.8 1579.3,1394.7 1584.0,1395.5 1588.7,1396.2 1593.4,1397.0 1598.1,1397.7 1602.7,1398.6 1607.4,1399.4 1612.1,1400.3 1616.8,1401.2 1621.5,1402.1 1626.2,1403.0 1630.9,1403.8 1635.6,1404.6 1640.2,1405.2 1644.9,1405.7 1649.6,1406.0 1654.3,1406.1 1659.0,1406.3 1663.7,1406.4 1668.4,1406.5 1673.0,1406.6 1677.7,1406.7 1682.4,1406.8 1687.1,1406.9 1691.8,1406.9 1696.5,1406.9 1701.2,1406.9 1705.9,1406.8 1710.5,1406.6 1715.2,1406.2 1719.9,1405.7 1724.6,1405.1 1729.3,1404.4 1734.0,1403.6 1738.7,1402.8 1743.3,1401.9 1748.0,1401.0 1752.7,1400.1 1757.4,1399.2 1762.1,1398.3 1766.8,1397.2 1771.5,1396.0 1776.2,1394.6 1780.8,1393.2 1785.5,1391.6 1790.2,1390.0 1794.9,1388.5 1799.6,1386.9 1804.3,1385.4 1809.0,1384.1 1813.6,1382.7 1818.3,1381.4 1823.0,1380.1 1827.7,1378.8 1832.4,1377.5 1837.1,1376.2 1841.8,1375.0 1846.5,1373.9 1851.1,1372.8 1855.8,1371.7 1860.5,1370.8 1865.2,1369.9 1869.9,1369.1 1874.6,1368.4 1879.3,1367.7 1883.9,1367.0 1888.6,1366.3 1893.3,1365.6 1898.0,1364.8 1902.7,1364.0 1907.4,1363.2 1912.1,1362.4 1916.8,1361.6 1921.4,1360.8 1926.1,1359.9 1930.8,1359.0 1935.5,1358.1 1940.2,1357.1 1944.9,1356.1 1949.6,1354.9 1954.2,1353.7 1958.9,1352.4 1963.6,1351.0 1968.3,1349.6 1973.0,1348.0 1977.7,1346.3 1982.4,1344.5 1987.1,1342.6 1991.7,1340.5 1996.4,1338.3 2001.1,1336.0 2005.8,1333.1 2010.5,1329.7 2015.2,1325.9 2019.9,1322.0 2024.5,1318.1 2029.2,1314.5 2033.9,1311.1 2038.6,1307.8 2043.3,1304.4 2048.0,1300.1 2052.7,1296.3 2057.4,1292.5 2062.0,1286.7 2066.7,1281.5 2071.4,1276.2 2076.1,1270.4 2080.8,1264.3 2085.5,1258.1 2090.2,1251.8 2094.8,1247.1 2099.5,1243.0" stroke="#ff0000" stroke-width="1.2" marker-start="url(#m-rt-red)" marker-mid="url(#m-rt-red)" marker-end="url(#m-rt-red)"/>
<polyline points="482.6,1389.5 487.3,1389.7 492.0,1389.9 496.7,1390.1 501.4,1390.2 506.1,1390.4 510.8,1390.6 515.4,1390.9 520.1,1391.1 524.8,1391.3 529.5,1391.5 534.2,1391.7 538.9,1391.9 543.6,1392.1 548.2,1392.3 552.9,1392.5 557.6,1392.8 562.3,1393.0 567.0,1393.2 571.7,1393.4 576.4,1393.6 581.1,1393.8 585.7,1394.0 590.4,1394.2 595.1,1394.5 599.8,1394.7 604.5,1394.9 609.2,1395.1 613.9,1395.3 618.5,1395.4 623.2,1395.6 627.9,1395.8 632.6,1396.0 637.3,1396.2 642.0,1396.4 646.7,1396.5 651.4,1396.7 656.0,1396.8 660.7,1397.0 665.4,1397.1 670.1,1397.3 674.8,1397.4 679.5,1397.5 684.2,1397.7 688.8,1397.8 693.5,1397.9 698.2,1398.0 702.9,1398.1 707.6,1398.1 712.3,1398.2 717.0,1398.3 721.7,1398.4 726.3,1398.5 731.0,1398.6 735.7,1398.7 740.4,1398.8 745.1,1398.8 749.8,1398.9 754.5,1399.0 759.1,1399.1 763.8,1399.2 768.5,1399.3 773.2,1399.4 777.9,1399.4 782.6,1399.5 787.3,1399.6 792.0,1399.7 796.6,1399.8 801.3,1399.8 806.0,1399.9 810.7,1400.0 815.4,1400.1 820.1,1400.1 824.8,1400.2 829.4,1400.3 834.1,1400.3 838.8,1400.4 843.5,1400.5 848.2,1400.6 852.9,1400.6 857.6,1400.7 862.3,1400.7 866.9,1400.8 871.6,1400.9 876.3,1400.9 881.0,1401.0 885.7,1401.1 890.4,1401.1 895.1,1401.2 899.7,1401.2 904.4,1401.3 909.1,1401.3 913.8,1401.4 918.5,1401.4 923.2,1401.5 927.9,1401.5 932.6,1401.5 937.2,1401.6 941.9,1401.6 946.6,1401.7 951.3,1401.7 956.0,1401.7 960.7,1401.8 965.4,1401.8 970.0,1401.8 974.7,1401.8 979.4,1401.9 984.1,1401.9 988.8,1401.9 993.5,1401.9 998.2,1401.9 1002.9,1402.0 1007.5,1402.0 1012.2,1402.0 1016.9,1402.0 1021.6,1402.0 1026.3,1402.0 1031.0,1402.0 1035.7,1402.0 1040.3,1402.0 1045.0,1402.0 1049.7,1402.0 1054.4,1402.0 1059.1,1401.9 1063.8,1401.9 1068.5,1401.9 1073.2,1401.9 1077.8,1401.9 1082.5,1401.8 1087.2,1401.8 1091.9,1401.8 1096.6,1401.8 1101.3,1401.7 1106.0,1401.7 1110.6,1401.7 1115.3,1401.6 1120.0,1401.6 1124.7,1401.6 1129.4,1401.6 1134.1,1401.5 1138.8,1401.5 1143.5,1401.5 1148.1,1401.4 1152.8,1401.4 1157.5,1401.3 1162.2,1401.3 1166.9,1401.2 1171.6,1401.1 1176.3,1401.1 1180.9,1401.0 1185.6,1401.0 1190.3,1400.9 1195.0,1400.8 1199.7,1400.8 1204.4,1400.7 1209.1,1400.7 1213.8,1400.6 1218.4,1400.6 1223.1,1400.5 1227.8,1400.5 1232.5,1400.5 1237.2,1400.5 1241.9,1400.5 1246.6,1400.5 1251.2,1400.6 1255.9,1400.6 1260.6,1400.7 1265.3,1400.8 1270.0,1400.9 1274.7,1400.9 1279.4,1401.0 1284.1,1401.0 1288.7,1401.0 1293.4,1401.0 1298.1,1400.9 1302.8,1400.8 1307.5,1400.7 1312.2,1400.5 1316.9,1400.3 1321.5,1400.1 1326.2,1399.8 1330.9,1399.2 1335.6,1398.2 1340.3,1397.1 1345.0,1395.9 1349.7,1394.7 1354.4,1393.6 1359.0,1392.5 1363.7,1391.2 1368.4,1390.0 1373.1,1388.7 1377.8,1387.3 1382.5,1385.8 1387.2,1384.2 1391.8,1382.6 1396.5,1380.9 1401.2,1379.4 1405.9,1377.9 1410.6,1376.4 1415.3,1375.0 1420.0,1373.8 1424.7,1372.8 1429.3,1372.0 1434.0,1371.2 1438.7,1370.6 1443.4,1370.0 1448.1,1369.5 1452.8,1369.0 1457.5,1368.6 1462.1,1368.4 1466.8,1368.5 1471.5,1368.6 1476.2,1368.8 1480.9,1369.1 1485.6,1369.4 1490.3,1369.7 1495.0,1370.1 1499.6,1370.4 1504.3,1370.9 1509.0,1371.5 1513.7,1372.2 1518.4,1372.9 1523.1,1373.7 1527.8,1374.5 1532.4,1375.4 1537.1,1376.3 1541.8,1377.3 1546.5,1378.4 1551.2,1379.4 1555.9,1380.4 1560.6,1381.5 1565.3,1382.6 1569.9,1383.8 1574.6,1385.0 1579.3,1386.3 1584.0,1387.8 1588.7,1389.4 1593.4,1390.9 1598.1,1392.5 1602.7,1393.9 1607.4,1395.2 1612.1,1396.3 1616.8,1397.4 1621.5,1398.5 1626.2,1399.5 1630.9,1400.5 1635.6,1401.4 1640.2,1402.1 1644.9,1402.7 1649.6,1403.0 1654.3,1403.2 1659.0,1403.3 1663.7,1403.5 1668.4,1403.6 1673.0,1403.7 1677.7,1403.8 1682.4,1403.9 1687.1,1403.9 1691.8,1404.0 1696.5,1404.0 1701.2,1404.0 1705.9,1403.9 1710.5,1403.8 1715.2,1403.6 1719.9,1403.4 1724.6,1403.1 1729.3,1402.7 1734.0,1402.3 1738.7,1401.9 1743.3,1401.4 1748.0,1400.9 1752.7,1400.4 1757.4,1399.9 1762.1,1399.3 1766.8,1398.6 1771.5,1397.7 1776.2,1396.7 1780.8,1395.7 1785.5,1394.7 1790.2,1393.7 1794.9,1392.8 1799.6,1391.7 1804.3,1390.6 1809.0,1389.4 1813.6,1387.9 1818.3,1386.2 1823.0,1384.3 1827.7,1382.3 1832.4,1380.5 1837.1,1378.8 1841.8,1377.1 1846.5,1375.4 1851.1,1373.8 1855.8,1372.5 1860.5,1371.4 1865.2,1370.6 1869.9,1369.9 1874.6,1369.2 1879.3,1368.7 1883.9,1368.2 1888.6,1367.6 1893.3,1367.0 1898.0,1366.4 1902.7,1365.7 1907.4,1364.9 1912.1,1364.1 1916.8,1363.3 1921.4,1362.4 1926.1,1361.5 1930.8,1360.6 1935.5,1359.6 1940.2,1358.6 1944.9,1357.6 1949.6,1356.5 1954.2,1355.3 1958.9,1354.1 1963.6,1352.8 1968.3,1351.5 1973.0,1350.1 1977.7,1348.7 1982.4,1347.2 1987.1,1345.6 1991.7,1344.0 1996.4,1342.2 2001.1,1340.1 2005.8,1337.8 2010.5,1335.4 2015.2,1333.0 2019.9,1330.9 2024.5,1329.0 2029.2,1327.5 2033.9,1325.7 2038.6,1323.5 2043.3,1320.3 2048.0,1316.8 2052.7,1312.9 2057.4,1309.1 2062.0,1303.8 2066.7,1299.0 2071.4,1294.7 2076.1,1290.0 2080.8,1284.7 2085.5,1278.5 2090.2,1272.7 2094.8,1267.9 2099.5,1264.5" stroke="#00ff00" stroke-width="1.2" marker-start="url(#m-sq-green)" marker-mid="url(#m-sq-green)" marker-end="url(#m-sq-green)"/>
<polyline points="482.6,1403.8 487.3,1403.8 492.0,1403.9 496.7,1404.0 501.4,1404.1 506.1,1404.2 510.8,1404.2 515.4,1404.3 520.1,1404.4 524.8,1404.5 529.5,1404.6 534.2,1404.7 538.9,1404.8 543.6,1404.9 548.2,1405.0 552.9,1405.1 557.6,1405.1 562.3,1405.2 567.0,1405.3 571.7,1405.4 576.4,1405.5 581.1,1405.6 585.7,1405.7 590.4,1405.8 595.1,1405.9 599.8,1406.0 604.5,1406.0 609.2,1406.1 613.9,1406.2 618.5,1406.3 623.2,1406.4 627.9,1406.5 632.6,1406.5 637.3,1406.6 642.0,1406.7 646.7,1406.8 651.4,1406.8 656.0,1406.9 660.7,1407.0 665.4,1407.1 670.1,1407.1 674.8,1407.2 679.5,1407.3 684.2,1407.3 688.8,1407.4 693.5,1407.4 698.2,1407.5 702.9,1407.5 707.6,1407.6 712.3,1407.6 717.0,1407.7 721.7,1407.7 726.3,1407.8 731.0,1407.8 735.7,1407.9 740.4,1407.9 745.1,1408.0 749.8,1408.0 754.5,1408.1 759.1,1408.2 763.8,1408.2 768.5,1408.3 773.2,1408.3 777.9,1408.4 782.6,1408.4 787.3,1408.5 792.0,1408.5 796.6,1408.6 801.3,1408.6 806.0,1408.7 810.7,1408.7 815.4,1408.7 820.1,1408.8 824.8,1408.8 829.4,1408.9 834.1,1408.9 838.8,1409.0 843.5,1409.0 848.2,1409.1 852.9,1409.1 857.6,1409.2 862.3,1409.2 866.9,1409.2 871.6,1409.3 876.3,1409.3 881.0,1409.4 885.7,1409.4 890.4,1409.4 895.1,1409.5 899.7,1409.5 904.4,1409.5 909.1,1409.6 913.8,1409.6 918.5,1409.6 923.2,1409.7 927.9,1409.7 932.6,1409.7 937.2,1409.7 941.9,1409.8 946.6,1409.8 951.3,1409.8 956.0,1409.8 960.7,1409.9 965.4,1409.9 970.0,1409.9 974.7,1409.9 979.4,1409.9 984.1,1409.9 988.8,1410.0 993.5,1410.0 998.2,1410.0 1002.9,1410.0 1007.5,1410.0 1012.2,1410.0 1016.9,1410.0 1021.6,1410.0 1026.3,1410.0 1031.0,1410.0 1035.7,1410.0 1040.3,1410.0 1045.0,1410.0 1049.7,1409.9 1054.4,1409.9 1059.1,1409.9 1063.8,1409.8 1068.5,1409.8 1073.2,1409.8 1077.8,1409.7 1082.5,1409.7 1087.2,1409.6 1091.9,1409.6 1096.6,1409.6 1101.3,1409.5 1106.0,1409.5 1110.6,1409.4 1115.3,1409.3 1120.0,1409.3 1124.7,1409.2 1129.4,1409.2 1134.1,1409.1 1138.8,1409.0 1143.5,1409.0 1148.1,1408.9 1152.8,1408.8 1157.5,1408.7 1162.2,1408.6 1166.9,1408.5 1171.6,1408.4 1176.3,1408.3 1180.9,1408.2 1185.6,1408.0 1190.3,1407.9 1195.0,1407.8 1199.7,1407.7 1204.4,1407.5 1209.1,1407.4 1213.8,1407.2 1218.4,1407.1 1223.1,1406.9 1227.8,1406.8 1232.5,1406.7 1237.2,1406.5 1241.9,1406.3 1246.6,1406.2 1251.2,1406.0 1255.9,1405.8 1260.6,1405.6 1265.3,1405.4 1270.0,1405.2 1274.7,1404.9 1279.4,1404.6 1284.1,1404.2 1288.7,1403.8 1293.4,1403.2 1298.1,1402.6 1302.8,1401.9 1307.5,1401.1 1312.2,1400.3 1316.9,1399.5 1321.5,1398.7 1326.2,1397.8 1330.9,1396.9 1335.6,1396.0 1340.3,1394.9 1345.0,1393.8 1349.7,1392.6 1354.4,1391.2 1359.0,1389.7 1363.7,1388.1 1368.4,1386.4 1373.1,1384.7 1377.8,1383.1 1382.5,1381.4 1387.2,1379.6 1391.8,1377.9 1396.5,1376.3 1401.2,1375.0 1405.9,1373.9 1410.6,1372.8 1415.3,1371.8 1420.0,1371.0 1424.7,1370.4 1429.3,1370.0 1434.0,1369.5 1438.7,1369.1 1443.4,1368.9 1448.1,1368.8 1452.8,1368.8 1457.5,1368.9 1462.1,1369.1 1466.8,1369.3 1471.5,1369.6 1476.2,1370.0 1480.9,1370.6 1485.6,1371.2 1490.3,1371.9 1495.0,1372.7 1499.6,1373.3 1504.3,1374.0 1509.0,1374.7 1513.7,1375.4 1518.4,1376.1 1523.1,1376.8 1527.8,1377.7 1532.4,1378.6 1537.1,1379.6 1541.8,1380.6 1546.5,1381.5 1551.2,1382.4 1555.9,1383.3 1560.6,1384.3 1565.3,1385.1 1569.9,1385.9 1574.6,1386.6 1579.3,1387.2 1584.0,1387.8 1588.7,1388.4 1593.4,1388.9 1598.1,1389.3 1602.7,1389.5 1607.4,1389.5 1612.1,1389.4 1616.8,1389.2 1621.5,1388.9 1626.2,1388.7 1630.9,1388.4 1635.6,1388.1 1640.2,1387.8 1644.9,1387.4 1649.6,1387.0 1654.3,1386.5 1659.0,1386.0 1663.7,1385.4 1668.4,1384.8 1673.0,1384.0 1677.7,1383.2 1682.4,1382.4 1687.1,1381.5 1691.8,1380.5 1696.5,1379.6 1701.2,1378.7 1705.9,1377.7 1710.5,1376.8 1715.2,1375.8 1719.9,1374.8 1724.6,1373.8 1729.3,1372.7 1734.0,1371.6 1738.7,1370.5 1743.3,1369.4 1748.0,1368.3 1752.7,1367.2 1757.4,1366.2 1762.1,1365.1 1766.8,1364.0 1771.5,1363.0 1776.2,1361.9 1780.8,1360.8 1785.5,1359.8 1790.2,1358.7 1794.9,1357.6 1799.6,1356.5 1804.3,1355.3 1809.0,1354.2 1813.6,1353.0 1818.3,1351.8 1823.0,1350.7 1827.7,1349.6 1832.4,1348.4 1837.1,1347.2 1841.8,1345.9 1846.5,1344.6 1851.1,1343.2 1855.8,1341.7 1860.5,1340.0 1865.2,1338.1 1869.9,1336.0 1874.6,1333.6 1879.3,1331.1 1883.9,1328.5 1888.6,1325.6 1893.3,1322.6 1898.0,1319.4 1902.7,1316.1 1907.4,1312.9 1912.1,1309.6 1916.8,1306.2 1921.4,1302.5 1926.1,1298.5 1930.8,1294.0 1935.5,1288.7 1940.2,1282.5 1944.9,1276.0 1949.6,1269.4 1954.2,1262.9 1958.9,1256.2 1963.6,1249.4 1968.3,1242.5 1973.0,1235.6 1977.7,1228.7 1982.4,1221.8 1987.1,1215.1 1991.7,1208.5 1996.4,1201.6 2001.1,1194.2 2005.8,1185.7 2010.5,1175.1 2015.2,1163.9 2019.9,1154.0 2024.5,1142.0 2029.2,1130.2 2033.9,1119.0 2038.6,1105.0 2043.3,1093.7 2048.0,1078.6 2052.7,1065.1 2057.4,1048.3 2062.0,1028.4 2066.7,1000.4 2071.4,979.9 2076.1,961.1 2080.8,933.3 2085.5,905.3 2090.2,875.0 2094.8,851.1 2099.5,829.6" stroke="#0000ff" stroke-width="1.2" marker-start="url(#m-sq-blue)" marker-mid="url(#m-sq-blue)" marker-end="url(#m-sq-blue)"/>
<polyline points="482.6,1388.2 487.3,1388.4 492.0,1388.6 496.7,1388.8 501.4,1388.9 506.1,1389.1 510.8,1389.3 515.4,1389.5 520.1,1389.7 524.8,1389.9 529.5,1390.1 534.2,1390.3 538.9,1390.5 543.6,1390.7 548.2,1390.9 552.9,1391.1 557.6,1391.3 562.3,1391.5 567.0,1391.7 571.7,1391.9 576.4,1392.1 581.1,1392.3 585.7,1392.5 590.4,1392.7 595.1,1392.9 599.8,1393.1 604.5,1393.3 609.2,1393.5 613.9,1393.6 618.5,1393.8 623.2,1394.0 627.9,1394.2 632.6,1394.3 637.3,1394.5 642.0,1394.7 646.7,1394.8 651.4,1395.0 656.0,1395.1 660.7,1395.3 665.4,1395.4 670.1,1395.6 674.8,1395.7 679.5,1395.8 684.2,1395.9 688.8,1396.0 693.5,1396.1 698.2,1396.2 702.9,1396.3 707.6,1396.4 712.3,1396.5 717.0,1396.6 721.7,1396.7 726.3,1396.7 731.0,1396.8 735.7,1396.9 740.4,1397.0 745.1,1397.1 749.8,1397.2 754.5,1397.2 759.1,1397.3 763.8,1397.4 768.5,1397.5 773.2,1397.6 777.9,1397.6 782.6,1397.7 787.3,1397.8 792.0,1397.9 796.6,1398.0 801.3,1398.0 806.0,1398.1 810.7,1398.2 815.4,1398.3 820.1,1398.3 824.8,1398.4 829.4,1398.5 834.1,1398.5 838.8,1398.6 843.5,1398.7 848.2,1398.8 852.9,1398.8 857.6,1398.9 862.3,1398.9 866.9,1399.0 871.6,1399.1 876.3,1399.1 881.0,1399.2 885.7,1399.2 890.4,1399.3 895.1,1399.4 899.7,1399.4 904.4,1399.5 909.1,1399.5 913.8,1399.6 918.5,1399.6 923.2,1399.7 927.9,1399.7 932.6,1399.7 937.2,1399.8 941.9,1399.8 946.6,1399.9 951.3,1399.9 956.0,1399.9 960.7,1400.0 965.4,1400.0 970.0,1400.0 974.7,1400.1 979.4,1400.1 984.1,1400.1 988.8,1400.1 993.5,1400.2 998.2,1400.2 1002.9,1400.2 1007.5,1400.2 1012.2,1400.2 1016.9,1400.2 1021.6,1400.2 1026.3,1400.2 1031.0,1400.2 1035.7,1400.2 1040.3,1400.2 1045.0,1400.2 1049.7,1400.2 1054.4,1400.2 1059.1,1400.2 1063.8,1400.2 1068.5,1400.2 1073.2,1400.1 1077.8,1400.1 1082.5,1400.1 1087.2,1400.0 1091.9,1400.0 1096.6,1399.9 1101.3,1399.9 1106.0,1399.9 1110.6,1399.8 1115.3,1399.8 1120.0,1399.7 1124.7,1399.7 1129.4,1399.6 1134.1,1399.5 1138.8,1399.5 1143.5,1399.4 1148.1,1399.4 1152.8,1399.3 1157.5,1399.2 1162.2,1399.1 1166.9,1399.0 1171.6,1398.9 1176.3,1398.8 1180.9,1398.6 1185.6,1398.5 1190.3,1398.4 1195.0,1398.2 1199.7,1398.1 1204.4,1397.9 1209.1,1397.7 1213.8,1397.6 1218.4,1397.4 1223.1,1397.2 1227.8,1397.0 1232.5,1396.8 1237.2,1396.5 1241.9,1396.3 1246.6,1396.0 1251.2,1395.7 1255.9,1395.3 1260.6,1394.9 1265.3,1394.5 1270.0,1394.0 1274.7,1393.6 1279.4,1393.0 1284.1,1392.5 1288.7,1391.9 1293.4,1391.3 1298.1,1390.5 1302.8,1389.7 1307.5,1388.9 1312.2,1387.9 1316.9,1386.9 1321.5,1385.9 1326.2,1384.8 1330.9,1383.7 1335.6,1382.6 1340.3,1381.4 1345.0,1380.1 1349.7,1378.6 1354.4,1377.1 1359.0,1375.6 1363.7,1374.3 1368.4,1373.0 1373.1,1371.6 1377.8,1370.3 1382.5,1369.2 1387.2,1368.4 1391.8,1367.8 1396.5,1367.3 1401.2,1366.9 1405.9,1366.5 1410.6,1366.3 1415.3,1366.2 1420.0,1366.1 1424.7,1366.0 1429.3,1366.0 1434.0,1365.9 1438.7,1365.9 1443.4,1365.9 1448.1,1365.9 1452.8,1366.0 1457.5,1366.3 1462.1,1366.8 1466.8,1367.3 1471.5,1368.0 1476.2,1368.8 1480.9,1369.9 1485.6,1371.1 1490.3,1372.4 1495.0,1373.7 1499.6,1374.9 1504.3,1376.0 1509.0,1377.1 1513.7,1378.3 1518.4,1379.5 1523.1,1380.8 1527.8,1382.1 1532.4,1383.5 1537.1,1384.9 1541.8,1386.3 1546.5,1387.7 1551.2,1389.2 1555.9,1390.7 1560.6,1392.2 1565.3,1393.6 1569.9,1395.0 1574.6,1396.2 1579.3,1397.4 1584.0,1398.6 1588.7,1399.8 1593.4,1400.9 1598.1,1401.8 1602.7,1402.6 1607.4,1403.3 1612.1,1403.9 1616.8,1404.5 1621.5,1405.0 1626.2,1405.6 1630.9,1406.1 1635.6,1406.6 1640.2,1407.0 1644.9,1407.4 1649.6,1407.8 1654.3,1408.1 1659.0,1408.4 1663.7,1408.6 1668.4,1408.7 1673.0,1408.8 1677.7,1408.8 1682.4,1408.8 1687.1,1408.7 1691.8,1408.6 1696.5,1408.5 1701.2,1408.3 1705.9,1408.1 1710.5,1407.9 1715.2,1407.7 1719.9,1407.5 1724.6,1407.2 1729.3,1407.0 1734.0,1406.7 1738.7,1406.4 1743.3,1406.1 1748.0,1405.8 1752.7,1405.4 1757.4,1404.9 1762.1,1404.4 1766.8,1403.6 1771.5,1402.8 1776.2,1401.8 1780.8,1400.8 1785.5,1399.8 1790.2,1398.8 1794.9,1397.9 1799.6,1397.0 1804.3,1396.1 1809.0,1395.2 1813.6,1394.3 1818.3,1393.5 1823.0,1392.6 1827.7,1391.8 1832.4,1391.0 1837.1,1390.2 1841.8,1389.4 1846.5,1388.6 1851.1,1387.9 1855.8,1387.2 1860.5,1386.5 1865.2,1385.8 1869.9,1385.2 1874.6,1384.5 1879.3,1383.9 1883.9,1383.2 1888.6,1382.6 1893.3,1381.9 1898.0,1381.3 1902.7,1380.7 1907.4,1380.1 1912.1,1379.6 1916.8,1379.0 1921.4,1378.4 1926.1,1377.8 1930.8,1377.2 1935.5,1376.5 1940.2,1375.8 1944.9,1375.0 1949.6,1374.1 1954.2,1373.2 1958.9,1372.2 1963.6,1371.1 1968.3,1370.0 1973.0,1368.9 1977.7,1367.7 1982.4,1366.4 1987.1,1365.2 1991.7,1363.9 1996.4,1362.6 2001.1,1361.3 2005.8,1360.0 2010.5,1358.5 2015.2,1357.1 2019.9,1355.5 2024.5,1353.7 2029.2,1351.9 2033.9,1349.6 2038.6,1347.6 2043.3,1344.8 2048.0,1342.4 2052.7,1339.5 2057.4,1335.7 2062.0,1332.3 2066.7,1327.6 2071.4,1324.2 2076.1,1320.3 2080.8,1316.1 2085.5,1311.8 2090.2,1307.0 2094.8,1304.2 2099.5,1304.0" stroke="#ff00ff" stroke-width="1.2" marker-start="url(#m-sq-magenta)" marker-mid="url(#m-sq-magenta)" marker-end="url(#m-sq-magenta)"/>
</g>
</g>
<g id="axes">
<path d="M318.6 1426.3 V54.5 H2146.4 V1426.3 H318.6 Z M318.6 740.5 H2146.4" fill="none" stroke="#000" stroke-width="4.7" stroke-linejoin="miter"/>
<path d="M318.6 740.50 h23.3 M318.6 654.75 h11.8 M318.6 569.00 h23.3 M318.6 483.25 h11.8 M318.6 397.50 h23.3 M318.6 311.75 h11.8 M318.6 226.00 h23.3 M318.6 140.25 h11.8 M318.6 54.50 h23.3 M2146.4 1426.30 h-23.3 M2146.4 1323.43 h-11.8 M2146.4 1220.56 h-23.3 M2146.4 1117.69 h-11.8 M2146.4 1014.82 h-23.3 M2146.4 911.95 h-11.8 M2146.4 809.08 h-23.3 M318.60 740.5 v-23.3 M318.60 1426.3 v-23.3 M501.38 740.5 v-11.8 M501.38 1426.3 v-11.8 M684.16 740.5 v-23.3 M684.16 1426.3 v-23.3 M866.94 740.5 v-11.8 M866.94 1426.3 v-11.8 M1049.72 740.5 v-23.3 M1049.72 1426.3 v-23.3 M1232.50 740.5 v-11.8 M1232.50 1426.3 v-11.8 M1415.28 740.5 v-23.3 M1415.28 1426.3 v-23.3 M1598.06 740.5 v-11.8 M1598.06 1426.3 v-11.8 M1780.84 740.5 v-23.3 M1780.84 1426.3 v-23.3 M1963.62 740.5 v-11.8 M1963.62 1426.3 v-11.8 M2146.40 740.5 v-23.3 M2146.40 1426.3 v-23.3" fill="none" stroke="#000" stroke-width="4.7"/>
</g>
<g id="labels">
<text transform="translate(292.5 763.1) scale(0.975 1.04)" text-anchor="end" font-size="75">0</text>
<text transform="translate(292.5 591.6) scale(0.975 1.04)" text-anchor="end" font-size="75">4000</text>
<text transform="translate(292.5 420.1) scale(0.975 1.04)" text-anchor="end" font-size="75">8000</text>
<text transform="translate(292.5 248.6) scale(0.975 1.04)" text-anchor="end" font-size="75">12000</text>
<text transform="translate(292.5 77.1) scale(0.975 1.04)" text-anchor="end" font-size="75">16000</text>
<text transform="translate(2172 1449.1) scale(0.975 1.04)" text-anchor="start" font-size="75">0.0</text>
<text transform="translate(2172 1243.4) scale(0.975 1.04)" text-anchor="start" font-size="75">0.3</text>
<text transform="translate(2172 1037.6) scale(0.975 1.04)" text-anchor="start" font-size="75">0.6</text>
<text transform="translate(2172 831.9) scale(0.975 1.04)" text-anchor="start" font-size="75">0.9</text>
<text transform="translate(302.1 1494.4) scale(0.975 1.04)" text-anchor="middle" font-size="75">0</text>
<text transform="translate(667.7 1494.4) scale(0.975 1.04)" text-anchor="middle" font-size="75">78</text>
<text transform="translate(1033.2 1494.4) scale(0.975 1.04)" text-anchor="middle" font-size="75">156</text>
<text transform="translate(1398.8 1494.4) scale(0.975 1.04)" text-anchor="middle" font-size="75">234</text>
<text transform="translate(1764.3 1494.4) scale(0.975 1.04)" text-anchor="middle" font-size="75">312</text>
<text transform="translate(2129.9 1494.4) scale(0.975 1.04)" text-anchor="middle" font-size="75">390</text>
<text transform="translate(79.2 397.3) rotate(-90) scale(0.994 1.02)" text-anchor="middle" font-size="75" font-weight="bold">Dielectric constant</text>
<text transform="translate(2346 1470.8) rotate(-90) scale(0.994 1.02)" text-anchor="start" font-size="75" font-weight="bold">Dielectric loss ( tan<tspan font-family="'DejaVu Serif', 'Liberation Serif', serif" font-weight="normal" font-size="64" dx="-3">δ</tspan> )</text>
<text transform="translate(1234.2 1573.4) scale(0.957 1.02)" text-anchor="middle" font-size="75" font-weight="bold">Temperature ( <tspan font-size="52" dy="-33.3">o</tspan><tspan dy="33.3">C )</tspan></text>
</g>
<g id="legend">
<path d="M376 126.6 H522" stroke="#000000" stroke-width="4.8" stroke-linecap="round" fill="none"/>
<path d="M442.0 119.6h14.0v14.0h-14.0z" fill="#000000"/>
<text transform="translate(543.5 149.0) scale(0.968 1.04)" text-anchor="start" font-size="66.7">1010<tspan font-family="'Liberation Serif',serif" font-size="57.0" dx="1.5" dy="-0.5">°</tspan><tspan dx="2.5" dy="0.5">C</tspan></text>
<path d="M376 208.6 H522" stroke="#ff0000" stroke-width="4.8" stroke-linecap="round" fill="none"/>
<circle cx="449" cy="208.6" r="7.7" fill="#ff0000"/>
<text transform="translate(543.5 231.0) scale(0.968 1.04)" text-anchor="start" font-size="66.7">1020<tspan font-family="'Liberation Serif',serif" font-size="57.0" dx="1.5" dy="-0.5">°</tspan><tspan dx="2.5" dy="0.5">C</tspan></text>
<path d="M376 290.6 H522" stroke="#00ff00" stroke-width="4.8" stroke-linecap="round" fill="none"/>
<path d="M449.0 280.0l9.3 16.2h-18.6z" fill="#00ff00"/>
<text transform="translate(543.5 313.0) scale(0.968 1.04)" text-anchor="start" font-size="66.7">1030<tspan font-family="'Liberation Serif',serif" font-size="57.0" dx="1.5" dy="-0.5">°</tspan><tspan dx="2.5" dy="0.5">C</tspan></text>
<path d="M376 372.6 H522" stroke="#0000ff" stroke-width="4.8" stroke-linecap="round" fill="none"/>
<path d="M449.0 383.2l9.3 -16.2h-18.6z" fill="#0000ff"/>
<text transform="translate(543.5 395.0) scale(0.968 1.04)" text-anchor="start" font-size="66.7">1040<tspan font-family="'Liberation Serif',serif" font-size="57.0" dx="1.5" dy="-0.5">°</tspan><tspan dx="2.5" dy="0.5">C</tspan></text>
<path d="M376 454.6 H522" stroke="#ff00ff" stroke-width="4.8" stroke-linecap="round" fill="none"/>
<path d="M449.0 444.8l9.7 9.8l-9.7 9.8l-9.7 -9.8z" fill="#ff00ff"/>
<text transform="translate(543.5 477.0) scale(0.968 1.04)" text-anchor="start" font-size="66.7">1050<tspan font-family="'Liberation Serif',serif" font-size="57.0" dx="1.5" dy="-0.5">°</tspan><tspan dx="2.5" dy="0.5">C</tspan></text>
</g>
</svg>
</body>
</html>
